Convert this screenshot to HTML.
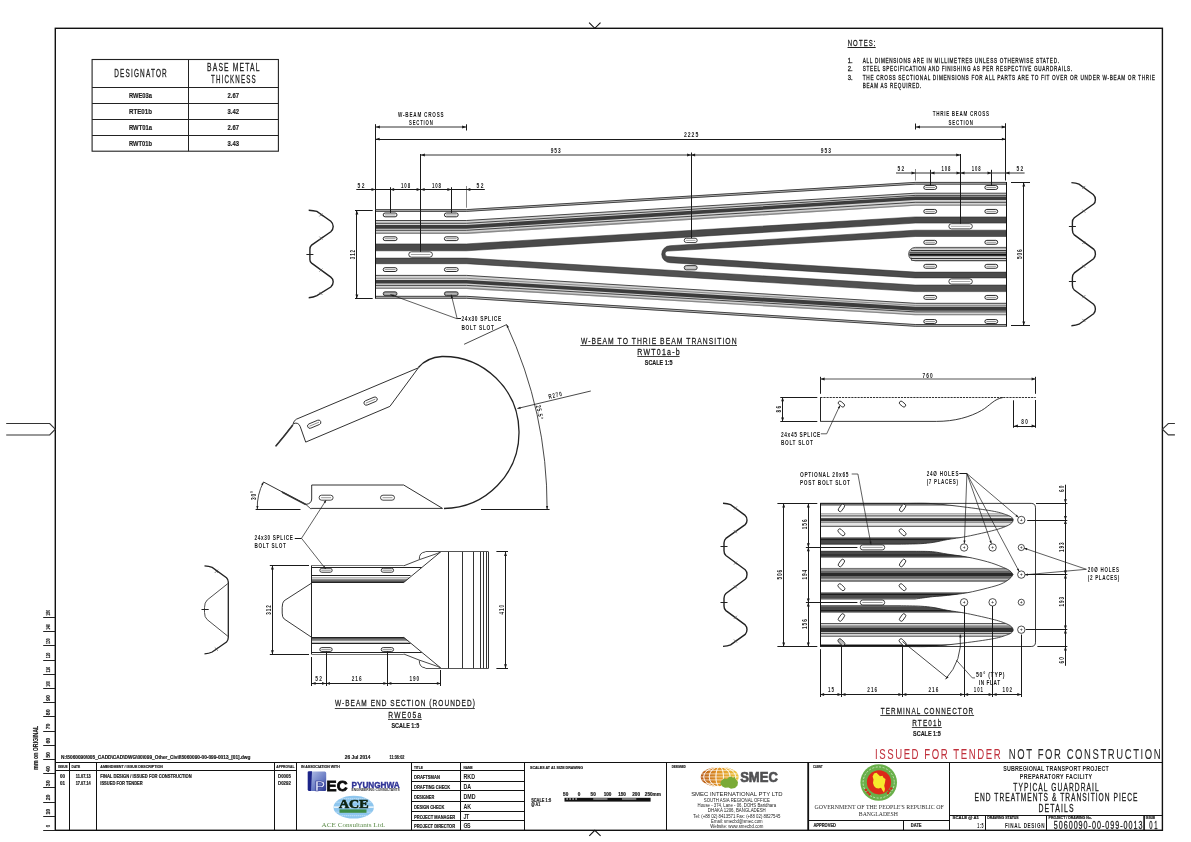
<!DOCTYPE html>
<html><head><meta charset="utf-8"><title>Typical Guardrail End Treatments &amp; Transition Piece Details</title>
<style>
html,body{margin:0;padding:0;background:#fff;}
body{width:1191px;height:842px;overflow:hidden;}
svg{display:block;will-change:transform;}
</style></head><body>
<svg width="1191" height="842" viewBox="0 0 1191 842" fill="none" stroke="#1a1a1a" stroke-width="0.9" font-family="Liberation Sans, sans-serif">
<rect x="0" y="0" width="1191" height="842" fill="#fff" stroke="none"/>
<g>
<rect x="55.3" y="28.3" width="1107.1" height="802.0" stroke="#111" stroke-width="1.4"/>
<path d="M589.1 22.6 L594.8 28.3 L600.5 22.6" stroke-width="1.1" stroke="#111"/>
<path d="M589.3 835.8 L594.8 830.3 L600.6 835.8" stroke-width="1.1" stroke="#111"/>
<path d="M6.2 423.5 H49.7 L55.3 429.2 L49.7 435 H6.2" stroke-width="1.1" stroke="#333"/>
<path d="M1174.9 423.5 H1168.3 L1162.4 429.2 L1168.3 434.9 H1174.9" stroke-width="1.1" stroke="#333"/>
<line x1="43.2" y1="617.5" x2="55.3" y2="617.5" stroke-width="1.0" stroke="#222"/>
<text x="47.6" y="614.8" font-size="5.81" text-anchor="middle" textLength="5.7" lengthAdjust="spacingAndGlyphs" transform="rotate(-90 47.6 612.8)" fill="#1a1a1a" stroke="#1a1a1a" stroke-width="0.18" font-weight="bold">150</text>
<line x1="43.2" y1="631.5" x2="55.3" y2="631.5" stroke-width="1.0" stroke="#222"/>
<text x="47.6" y="629.0" font-size="5.81" text-anchor="middle" textLength="5.7" lengthAdjust="spacingAndGlyphs" transform="rotate(-90 47.6 627.0)" fill="#1a1a1a" stroke="#1a1a1a" stroke-width="0.18" font-weight="bold">140</text>
<line x1="43.2" y1="645.5" x2="55.3" y2="645.5" stroke-width="1.0" stroke="#222"/>
<text x="47.6" y="643.2" font-size="5.81" text-anchor="middle" textLength="5.7" lengthAdjust="spacingAndGlyphs" transform="rotate(-90 47.6 641.2)" fill="#1a1a1a" stroke="#1a1a1a" stroke-width="0.18" font-weight="bold">130</text>
<line x1="43.2" y1="660.5" x2="55.3" y2="660.5" stroke-width="1.0" stroke="#222"/>
<text x="47.6" y="657.4" font-size="5.81" text-anchor="middle" textLength="5.7" lengthAdjust="spacingAndGlyphs" transform="rotate(-90 47.6 655.4)" fill="#1a1a1a" stroke="#1a1a1a" stroke-width="0.18" font-weight="bold">120</text>
<line x1="43.2" y1="674.5" x2="55.3" y2="674.5" stroke-width="1.0" stroke="#222"/>
<text x="47.6" y="671.6" font-size="5.81" text-anchor="middle" textLength="5.7" lengthAdjust="spacingAndGlyphs" transform="rotate(-90 47.6 669.6)" fill="#1a1a1a" stroke="#1a1a1a" stroke-width="0.18" font-weight="bold">110</text>
<line x1="43.2" y1="688.5" x2="55.3" y2="688.5" stroke-width="1.0" stroke="#222"/>
<text x="47.6" y="685.9" font-size="5.81" text-anchor="middle" textLength="5.7" lengthAdjust="spacingAndGlyphs" transform="rotate(-90 47.6 683.9)" fill="#1a1a1a" stroke="#1a1a1a" stroke-width="0.18" font-weight="bold">100</text>
<line x1="43.2" y1="702.5" x2="55.3" y2="702.5" stroke-width="1.0" stroke="#222"/>
<text x="47.6" y="700.1" font-size="5.81" text-anchor="middle" textLength="5.7" lengthAdjust="spacingAndGlyphs" transform="rotate(-90 47.6 698.1)" fill="#1a1a1a" stroke="#1a1a1a" stroke-width="0.18" font-weight="bold">90</text>
<line x1="43.2" y1="716.5" x2="55.3" y2="716.5" stroke-width="1.0" stroke="#222"/>
<text x="47.6" y="714.3" font-size="5.81" text-anchor="middle" textLength="5.7" lengthAdjust="spacingAndGlyphs" transform="rotate(-90 47.6 712.3)" fill="#1a1a1a" stroke="#1a1a1a" stroke-width="0.18" font-weight="bold">80</text>
<line x1="43.2" y1="731.5" x2="55.3" y2="731.5" stroke-width="1.0" stroke="#222"/>
<text x="47.6" y="728.5" font-size="5.81" text-anchor="middle" textLength="5.7" lengthAdjust="spacingAndGlyphs" transform="rotate(-90 47.6 726.5)" fill="#1a1a1a" stroke="#1a1a1a" stroke-width="0.18" font-weight="bold">70</text>
<line x1="43.2" y1="745.5" x2="55.3" y2="745.5" stroke-width="1.0" stroke="#222"/>
<text x="47.6" y="742.7" font-size="5.81" text-anchor="middle" textLength="5.7" lengthAdjust="spacingAndGlyphs" transform="rotate(-90 47.6 740.7)" fill="#1a1a1a" stroke="#1a1a1a" stroke-width="0.18" font-weight="bold">60</text>
<line x1="43.2" y1="759.5" x2="55.3" y2="759.5" stroke-width="1.0" stroke="#222"/>
<text x="47.6" y="756.9" font-size="5.81" text-anchor="middle" textLength="5.7" lengthAdjust="spacingAndGlyphs" transform="rotate(-90 47.6 754.9)" fill="#1a1a1a" stroke="#1a1a1a" stroke-width="0.18" font-weight="bold">50</text>
<line x1="43.2" y1="773.5" x2="55.3" y2="773.5" stroke-width="1.0" stroke="#222"/>
<text x="47.6" y="771.1" font-size="5.81" text-anchor="middle" textLength="5.7" lengthAdjust="spacingAndGlyphs" transform="rotate(-90 47.6 769.1)" fill="#1a1a1a" stroke="#1a1a1a" stroke-width="0.18" font-weight="bold">40</text>
<line x1="43.2" y1="787.5" x2="55.3" y2="787.5" stroke-width="1.0" stroke="#222"/>
<text x="47.6" y="785.3" font-size="5.81" text-anchor="middle" textLength="5.7" lengthAdjust="spacingAndGlyphs" transform="rotate(-90 47.6 783.3)" fill="#1a1a1a" stroke="#1a1a1a" stroke-width="0.18" font-weight="bold">30</text>
<line x1="43.2" y1="802.5" x2="55.3" y2="802.5" stroke-width="1.0" stroke="#222"/>
<text x="47.6" y="799.5" font-size="5.81" text-anchor="middle" textLength="5.7" lengthAdjust="spacingAndGlyphs" transform="rotate(-90 47.6 797.5)" fill="#1a1a1a" stroke="#1a1a1a" stroke-width="0.18" font-weight="bold">20</text>
<line x1="43.2" y1="816.5" x2="55.3" y2="816.5" stroke-width="1.0" stroke="#222"/>
<text x="47.6" y="813.7" font-size="5.81" text-anchor="middle" textLength="5.7" lengthAdjust="spacingAndGlyphs" transform="rotate(-90 47.6 811.7)" fill="#1a1a1a" stroke="#1a1a1a" stroke-width="0.18" font-weight="bold">10</text>
<line x1="43.2" y1="830.5" x2="55.3" y2="830.5" stroke-width="1.0" stroke="#222"/>
<text x="47.6" y="827.9" font-size="5.81" text-anchor="middle" textLength="2.5" lengthAdjust="spacingAndGlyphs" transform="rotate(-90 47.6 825.9)" fill="#1a1a1a" stroke="#1a1a1a" stroke-width="0.18" font-weight="bold">0</text>
<text x="35.7" y="750.0" font-size="6.69" text-anchor="middle" textLength="44.0" lengthAdjust="spacingAndGlyphs" transform="rotate(-90 35.7 747.7)" fill="#1a1a1a" stroke="#1a1a1a" stroke-width="0.18" font-weight="bold">mm on ORIGINAL</text>
<line x1="55.3" y1="762.5" x2="1162.4" y2="762.5" stroke-width="1.0" stroke="#111"/>
<line x1="55.3" y1="770.5" x2="296.1" y2="770.5" stroke-width="1.0" stroke="#111"/>
<line x1="411.5" y1="770.5" x2="524.5" y2="770.5" stroke-width="1.0" stroke="#111"/>
<line x1="411.5" y1="781.5" x2="524.5" y2="781.5" stroke-width="1.0" stroke="#111"/>
<line x1="411.5" y1="790.5" x2="524.5" y2="790.5" stroke-width="1.0" stroke="#111"/>
<line x1="411.5" y1="801.5" x2="524.5" y2="801.5" stroke-width="1.0" stroke="#111"/>
<line x1="411.5" y1="811.5" x2="524.5" y2="811.5" stroke-width="1.0" stroke="#111"/>
<line x1="411.5" y1="820.5" x2="524.5" y2="820.5" stroke-width="1.0" stroke="#111"/>
<line x1="69.5" y1="762.3" x2="69.5" y2="830.3" stroke-width="1.0" stroke="#111"/>
<line x1="96.5" y1="762.3" x2="96.5" y2="830.3" stroke-width="1.0" stroke="#111"/>
<line x1="274.5" y1="762.3" x2="274.5" y2="830.3" stroke-width="1.0" stroke="#111"/>
<line x1="296.5" y1="762.3" x2="296.5" y2="830.3" stroke-width="1.0" stroke="#111"/>
<line x1="411.5" y1="762.3" x2="411.5" y2="830.3" stroke-width="1.0" stroke="#111"/>
<line x1="460.5" y1="762.3" x2="460.5" y2="830.3" stroke-width="1.0" stroke="#111"/>
<line x1="524.5" y1="762.3" x2="524.5" y2="830.3" stroke-width="1.0" stroke="#111"/>
<line x1="666.5" y1="762.3" x2="666.5" y2="830.3" stroke-width="1.0" stroke="#111"/>
<line x1="949.5" y1="762.3" x2="949.5" y2="830.3" stroke-width="1.0" stroke="#111"/>
<line x1="808.2" y1="762.3" x2="808.2" y2="830.3" stroke-width="1.8" stroke="#111"/>
<line x1="808.2" y1="820.5" x2="949.7" y2="820.5" stroke-width="1.0" stroke="#111"/>
<line x1="903.5" y1="820.6" x2="903.5" y2="830.3" stroke-width="1.0" stroke="#111"/>
<line x1="949.7" y1="815.5" x2="1162.4" y2="815.5" stroke-width="1.0" stroke="#111"/>
<line x1="985.5" y1="815.0" x2="985.5" y2="830.3" stroke-width="1.0" stroke="#111"/>
<line x1="1046.5" y1="815.0" x2="1046.5" y2="830.3" stroke-width="1.0" stroke="#111"/>
<line x1="1144.1" y1="815.0" x2="1144.1" y2="830.3" stroke-width="1.6" stroke="#111"/>
<text x="61.0" y="758.7" font-size="4.94" textLength="189.5" lengthAdjust="spacingAndGlyphs" fill="#1a1a1a" stroke="#1a1a1a" stroke-width="0.18" font-weight="bold">N:\5060090\005_CADD\CAD\DWG\00\099_Other_Civil\5060090-00-099-0013_[01].dwg</text>
<text x="344.8" y="758.7" font-size="4.94" textLength="25.6" lengthAdjust="spacingAndGlyphs" fill="#1a1a1a" stroke="#1a1a1a" stroke-width="0.18" font-weight="bold">26 Jul 2014</text>
<text x="389.6" y="758.7" font-size="4.94" textLength="14.7" lengthAdjust="spacingAndGlyphs" fill="#1a1a1a" stroke="#1a1a1a" stroke-width="0.18" font-weight="bold">11:36:02</text>
<text x="58.0" y="768.3" font-size="4.36" textLength="9.6" lengthAdjust="spacingAndGlyphs" fill="#1a1a1a" stroke="#1a1a1a" stroke-width="0.18" font-weight="bold">ISSUE</text>
<text x="71.6" y="768.3" font-size="4.36" textLength="8.5" lengthAdjust="spacingAndGlyphs" fill="#1a1a1a" stroke="#1a1a1a" stroke-width="0.18" font-weight="bold">DATE</text>
<text x="100.3" y="768.3" font-size="4.36" textLength="62.5" lengthAdjust="spacingAndGlyphs" fill="#1a1a1a" stroke="#1a1a1a" stroke-width="0.18" font-weight="bold">AMENDMENT / ISSUE  DESCRIPTION</text>
<text x="276.3" y="768.3" font-size="4.36" textLength="18.2" lengthAdjust="spacingAndGlyphs" fill="#1a1a1a" stroke="#1a1a1a" stroke-width="0.18" font-weight="bold">APPROVAL</text>
<text x="300.9" y="768.3" font-size="4.36" textLength="38.9" lengthAdjust="spacingAndGlyphs" fill="#1a1a1a" stroke="#1a1a1a" stroke-width="0.18" font-weight="bold">IN ASSOCIATION WITH</text>
<text x="62.6" y="778.4" font-size="4.80" text-anchor="middle" textLength="5.0" lengthAdjust="spacingAndGlyphs" fill="#1a1a1a" stroke="#1a1a1a" stroke-width="0.18" font-weight="bold">00</text>
<text x="75.7" y="778.4" font-size="4.80" textLength="15.1" lengthAdjust="spacingAndGlyphs" fill="#1a1a1a" stroke="#1a1a1a" stroke-width="0.18" font-weight="bold">11.07.13</text>
<text x="100.3" y="778.4" font-size="4.80" textLength="91.4" lengthAdjust="spacingAndGlyphs" fill="#1a1a1a" stroke="#1a1a1a" stroke-width="0.18" font-weight="bold">FINAL DESIGN / ISSUED FOR CONSTRUCTION</text>
<text x="278.1" y="778.4" font-size="4.80" textLength="12.7" lengthAdjust="spacingAndGlyphs" fill="#1a1a1a" stroke="#1a1a1a" stroke-width="0.18" font-weight="bold">D0005</text>
<text x="62.6" y="784.9" font-size="4.80" text-anchor="middle" textLength="5.0" lengthAdjust="spacingAndGlyphs" fill="#1a1a1a" stroke="#1a1a1a" stroke-width="0.18" font-weight="bold">01</text>
<text x="75.7" y="784.9" font-size="4.80" textLength="15.1" lengthAdjust="spacingAndGlyphs" fill="#1a1a1a" stroke="#1a1a1a" stroke-width="0.18" font-weight="bold">17.07.14</text>
<text x="100.3" y="784.9" font-size="4.80" textLength="42.4" lengthAdjust="spacingAndGlyphs" fill="#1a1a1a" stroke="#1a1a1a" stroke-width="0.18" font-weight="bold">ISSUED FOR TENDER</text>
<text x="278.1" y="784.9" font-size="4.80" textLength="12.7" lengthAdjust="spacingAndGlyphs" fill="#1a1a1a" stroke="#1a1a1a" stroke-width="0.18" font-weight="bold">D0292</text>
<text x="414.0" y="768.5" font-size="4.36" textLength="8.9" lengthAdjust="spacingAndGlyphs" fill="#1a1a1a" stroke="#1a1a1a" stroke-width="0.18" font-weight="bold">TITLE</text>
<text x="463.4" y="768.5" font-size="4.36" textLength="9.3" lengthAdjust="spacingAndGlyphs" fill="#1a1a1a" stroke="#1a1a1a" stroke-width="0.18" font-weight="bold">NAME</text>
<text x="414.0" y="779.0" font-size="4.94" textLength="25.9" lengthAdjust="spacingAndGlyphs" fill="#1a1a1a" stroke="#1a1a1a" stroke-width="0.18" font-weight="bold">DRAFTSMAN</text>
<text x="463.4" y="779.1" font-size="6.69" textLength="14.5" lengthAdjust="spacing" transform="translate(463.4 0) scale(0.8 1) translate(-463.4 0)" fill="#1a1a1a" stroke="none" font-weight="bold">RKD</text>
<text x="414.0" y="788.9" font-size="4.94" textLength="36.1" lengthAdjust="spacingAndGlyphs" fill="#1a1a1a" stroke="#1a1a1a" stroke-width="0.18" font-weight="bold">DRAFTING CHECK</text>
<text x="463.4" y="789.0" font-size="6.69" textLength="9.5" lengthAdjust="spacing" transform="translate(463.4 0) scale(0.8 1) translate(-463.4 0)" fill="#1a1a1a" stroke="none" font-weight="bold">DA</text>
<text x="414.0" y="798.8" font-size="4.94" textLength="20.2" lengthAdjust="spacingAndGlyphs" fill="#1a1a1a" stroke="#1a1a1a" stroke-width="0.18" font-weight="bold">DESIGNER</text>
<text x="463.4" y="798.9" font-size="6.69" textLength="15.4" lengthAdjust="spacing" transform="translate(463.4 0) scale(0.8 1) translate(-463.4 0)" fill="#1a1a1a" stroke="none" font-weight="bold">DMD</text>
<text x="414.0" y="808.7" font-size="4.94" textLength="30.3" lengthAdjust="spacingAndGlyphs" fill="#1a1a1a" stroke="#1a1a1a" stroke-width="0.18" font-weight="bold">DESIGN CHECK</text>
<text x="463.4" y="808.8" font-size="6.69" textLength="9.5" lengthAdjust="spacing" transform="translate(463.4 0) scale(0.8 1) translate(-463.4 0)" fill="#1a1a1a" stroke="none" font-weight="bold">AK</text>
<text x="414.0" y="818.6" font-size="4.94" textLength="41.3" lengthAdjust="spacingAndGlyphs" fill="#1a1a1a" stroke="#1a1a1a" stroke-width="0.18" font-weight="bold">PROJECT MANAGER</text>
<text x="463.4" y="818.7" font-size="6.69" textLength="7.5" lengthAdjust="spacing" transform="translate(463.4 0) scale(0.8 1) translate(-463.4 0)" fill="#1a1a1a" stroke="none" font-weight="bold">JT</text>
<text x="414.0" y="828.4" font-size="4.94" textLength="41.1" lengthAdjust="spacingAndGlyphs" fill="#1a1a1a" stroke="#1a1a1a" stroke-width="0.18" font-weight="bold">PROJECT DIRECTOR</text>
<text x="463.4" y="828.5" font-size="6.69" textLength="8.9" lengthAdjust="spacing" transform="translate(463.4 0) scale(0.8 1) translate(-463.4 0)" fill="#1a1a1a" stroke="none" font-weight="bold">GS</text>
<text x="530.0" y="768.5" font-size="4.36" textLength="53.0" lengthAdjust="spacingAndGlyphs" fill="#1a1a1a" stroke="#1a1a1a" stroke-width="0.18" font-weight="bold">SCALES AT A1 SIZE DRAWING</text>
<text x="531.2" y="801.5" font-size="4.65" textLength="20.0" lengthAdjust="spacingAndGlyphs" fill="#1a1a1a" stroke="#1a1a1a" stroke-width="0.18" font-weight="bold">SCALE 1:5</text>
<text x="531.2" y="805.8" font-size="4.65" textLength="9.0" lengthAdjust="spacingAndGlyphs" fill="#1a1a1a" stroke="#1a1a1a" stroke-width="0.18" font-weight="bold">@ A1</text>
<rect x="564.5" y="797.8" width="86.1" height="3.8" stroke="none" fill="#111"/>
<rect x="593.2" y="798.2" width="14.3" height="1.6" stroke="none" fill="#888"/>
<rect x="622.0" y="798.2" width="14.3" height="1.6" stroke="none" fill="#888"/>
<rect x="566.5" y="798.3" width="1.2" height="1.4" stroke="none" fill="#fff"/>
<rect x="569.5" y="798.3" width="1.2" height="1.4" stroke="none" fill="#fff"/>
<rect x="572.5" y="798.3" width="1.2" height="1.4" stroke="none" fill="#fff"/>
<rect x="575.5" y="798.3" width="1.2" height="1.4" stroke="none" fill="#fff"/>
<text x="565.7" y="795.8" font-size="4.65" text-anchor="middle" fill="#1a1a1a" stroke="#1a1a1a" stroke-width="0.18" font-weight="bold">50</text>
<text x="579.1" y="795.8" font-size="4.65" text-anchor="middle" fill="#1a1a1a" stroke="#1a1a1a" stroke-width="0.18" font-weight="bold">0</text>
<text x="593.2" y="795.8" font-size="4.65" text-anchor="middle" fill="#1a1a1a" stroke="#1a1a1a" stroke-width="0.18" font-weight="bold">50</text>
<text x="607.5" y="795.8" font-size="4.65" text-anchor="middle" fill="#1a1a1a" stroke="#1a1a1a" stroke-width="0.18" font-weight="bold">100</text>
<text x="622.0" y="795.8" font-size="4.65" text-anchor="middle" fill="#1a1a1a" stroke="#1a1a1a" stroke-width="0.18" font-weight="bold">150</text>
<text x="636.1" y="795.8" font-size="4.65" text-anchor="middle" fill="#1a1a1a" stroke="#1a1a1a" stroke-width="0.18" font-weight="bold">200</text>
<text x="652.8" y="795.8" font-size="4.65" text-anchor="middle" fill="#1a1a1a" stroke="#1a1a1a" stroke-width="0.18" font-weight="bold">250mm</text>
<text x="671.7" y="768.3" font-size="4.36" textLength="14.0" lengthAdjust="spacingAndGlyphs" fill="#1a1a1a" stroke="#1a1a1a" stroke-width="0.18" font-weight="bold">DESIGNED</text>
<text x="813.0" y="768.4" font-size="4.36" textLength="9.5" lengthAdjust="spacingAndGlyphs" fill="#1a1a1a" stroke="#1a1a1a" stroke-width="0.18" font-weight="bold">CLIENT</text>
<text x="879.1" y="808.5" font-size="5.81" text-anchor="middle" textLength="129.2" lengthAdjust="spacingAndGlyphs" fill="#2a2a2a" stroke="none" font-family="Liberation Serif, serif">GOVERNMENT OF THE PEOPLE'S REPUBLIC OF</text>
<text x="878.4" y="815.6" font-size="5.81" text-anchor="middle" textLength="39.2" lengthAdjust="spacingAndGlyphs" fill="#2a2a2a" stroke="none" font-family="Liberation Serif, serif">BANGLADESH</text>
<text x="813.4" y="826.5" font-size="4.65" textLength="22.6" lengthAdjust="spacingAndGlyphs" fill="#1a1a1a" stroke="#1a1a1a" stroke-width="0.18" font-weight="bold">APPROVED</text>
<text x="910.8" y="826.5" font-size="4.65" textLength="10.8" lengthAdjust="spacingAndGlyphs" fill="#1a1a1a" stroke="#1a1a1a" stroke-width="0.18" font-weight="bold">DATE</text>
<text x="1056.0" y="771.2" font-size="6.69" text-anchor="middle" textLength="132.0" lengthAdjust="spacing" transform="translate(1056.0 0) scale(0.8 1) translate(-1056.0 0)" fill="#1a1a1a" stroke="none" font-weight="bold">SUBREGIONAL TRANSPORT PROJECT</text>
<text x="1056.0" y="779.5" font-size="6.69" text-anchor="middle" textLength="90.5" lengthAdjust="spacing" transform="translate(1056.0 0) scale(0.8 1) translate(-1056.0 0)" fill="#1a1a1a" stroke="none" font-weight="bold">PREPARATORY FACILITY</text>
<text x="1056.0" y="791.4" font-size="10.17" text-anchor="middle" textLength="130.2" lengthAdjust="spacing" transform="translate(1056.0 0) scale(0.656 1) translate(-1056.0 0)" fill="#1a1a1a" stroke="#1a1a1a" stroke-width="0.26">TYPICAL GUARDRAIL</text>
<text x="1056.0" y="801.5" font-size="10.17" text-anchor="middle" textLength="249.6" lengthAdjust="spacing" transform="translate(1056.0 0) scale(0.653 1) translate(-1056.0 0)" fill="#1a1a1a" stroke="#1a1a1a" stroke-width="0.26">END TREATMENTS &amp; TRANSITION PIECE</text>
<text x="1056.0" y="811.7" font-size="10.17" text-anchor="middle" textLength="52.1" lengthAdjust="spacing" transform="translate(1056.0 0) scale(0.674 1) translate(-1056.0 0)" fill="#1a1a1a" stroke="#1a1a1a" stroke-width="0.26">DETAILS</text>
<text x="952.6" y="819.4" font-size="3.92" textLength="26.4" lengthAdjust="spacingAndGlyphs" fill="#1a1a1a" stroke="#1a1a1a" stroke-width="0.18" font-weight="bold">SCALE  @ A1</text>
<text x="983.5" y="828.0" font-size="6.54" text-anchor="end" textLength="11.4" lengthAdjust="spacing" transform="translate(983.5 0) scale(0.554 1) translate(-983.5 0)" fill="#1a1a1a" stroke="none" font-weight="bold">1:5</text>
<text x="987.2" y="819.4" font-size="3.92" textLength="31.5" lengthAdjust="spacingAndGlyphs" fill="#1a1a1a" stroke="#1a1a1a" stroke-width="0.18" font-weight="bold">DRAWING STATUS</text>
<text x="1044.6" y="828.2" font-size="7.27" text-anchor="end" textLength="62.7" lengthAdjust="spacing" transform="translate(1044.6 0) scale(0.633 1) translate(-1044.6 0)" fill="#1a1a1a" stroke="none" font-weight="bold">FINAL DESIGN</text>
<text x="1048.6" y="819.4" font-size="3.92" textLength="43.4" lengthAdjust="spacingAndGlyphs" fill="#1a1a1a" stroke="#1a1a1a" stroke-width="0.18" font-weight="bold">PROJECT / DRAWING No.</text>
<text x="1053.7" y="828.6" font-size="10.17" textLength="125.9" lengthAdjust="spacing" transform="translate(1053.7 0) scale(0.706 1) translate(-1053.7 0)" fill="#1a1a1a" stroke="#1a1a1a" stroke-width="0.26">5060090-00-099-0013</text>
<text x="1145.7" y="819.4" font-size="3.92" textLength="9.5" lengthAdjust="spacingAndGlyphs" fill="#1a1a1a" stroke="#1a1a1a" stroke-width="0.18" font-weight="bold">ISSUE</text>
<text x="1149.3" y="828.6" font-size="10.17" textLength="14.1" lengthAdjust="spacing" transform="translate(1149.3 0) scale(0.58 1) translate(-1149.3 0)" fill="#1a1a1a" stroke="#1a1a1a" stroke-width="0.26">01</text>
<text x="875.0" y="758.9" font-size="15.12" textLength="198.1" lengthAdjust="spacing" transform="translate(875.0 0) scale(0.634 1) translate(-875.0 0)" fill="#c0303c" stroke="#c0303c" stroke-width="0.05">ISSUED FOR TENDER</text>
<text x="1008.8" y="758.9" font-size="15.12" textLength="242.1" lengthAdjust="spacing" transform="translate(1008.8 0) scale(0.627 1) translate(-1008.8 0)" fill="#262626" stroke="#262626" stroke-width="0.05">NOT FOR CONSTRUCTION</text>
<defs>
<linearGradient id="pecg" x1="0" y1="0" x2="1" y2="1"><stop offset="0" stop-color="#b8c4e8"/><stop offset="0.6" stop-color="#6a7cc4"/><stop offset="1" stop-color="#2a3590"/></linearGradient>
<linearGradient id="smg" x1="0" y1="0" x2="1" y2="0"><stop offset="0" stop-color="#b85a18"/><stop offset="0.45" stop-color="#e09428"/><stop offset="1" stop-color="#ecc43c"/></linearGradient>
</defs>
<rect x="308.5" y="771.4" width="17.7" height="19.5" rx="1.5" fill="url(#pecg)" stroke="none"/>
<path d="M307.7 772 Q307.7 771.2 309 771.2 L312 771.2 L311 790.9 L309 790.9 Q307.7 790.9 307.7 789.5 Z" fill="#1c2488" stroke="none"/>
<text x="314.8" y="790.6" font-size="15" font-weight="bold" fill="#dde2f6" stroke="#1c2488" stroke-width="0.6" textLength="10.6" lengthAdjust="spacingAndGlyphs">P</text>
<text x="326.6" y="790.6" font-size="15" font-weight="bold" fill="#0c0c0c" stroke="#0c0c0c" stroke-width="0.8" textLength="21" lengthAdjust="spacingAndGlyphs">EC</text>
<text x="351.5" y="787.5" font-size="9.6" font-weight="bold" fill="#2e3296" stroke="#2e3296" stroke-width="0.4" textLength="48.2" lengthAdjust="spacingAndGlyphs">PYUNGHWA</text>
<text x="351.5" y="790.8" font-size="3" font-weight="bold" fill="#333" stroke="none" textLength="48.2" lengthAdjust="spacingAndGlyphs">ENGINEERING CONSULTANTS</text>
<ellipse cx="353.7" cy="807.2" rx="20.2" ry="11.4" fill="#8ec6ee" stroke="none"/>
<line x1="340.2" y1="798.7" x2="367.2" y2="798.7" stroke="#e6f2fb" stroke-width="0.7" stroke-dasharray="1.2 0.8"/>
<line x1="335.5" y1="802.2" x2="371.9" y2="802.2" stroke="#e6f2fb" stroke-width="0.7" stroke-dasharray="1.2 0.8"/>
<line x1="335.5" y1="812.2" x2="371.9" y2="812.2" stroke="#e6f2fb" stroke-width="0.7" stroke-dasharray="1.2 0.8"/>
<line x1="340.2" y1="815.7" x2="367.2" y2="815.7" stroke="#e6f2fb" stroke-width="0.7" stroke-dasharray="1.2 0.8"/>
<line x1="333.6" y1="807.2" x2="373.8" y2="807.2" stroke="#fff" stroke-width="1.2"/>
<text x="338.9" y="808.4" font-size="12" font-weight="bold" font-family="Liberation Serif, serif" fill="#0e2412" stroke="#0e2412" stroke-width="0.6" textLength="29.7" lengthAdjust="spacingAndGlyphs">ACE</text>
<rect x="339.5" y="809.4" width="27" height="3.4" fill="#3d8c46" stroke="none"/>
<text x="321.5" y="826.9" font-size="6" font-family="Liberation Serif, serif" fill="#5d8c4a" stroke="none" textLength="63.6" lengthAdjust="spacingAndGlyphs">ACE Consultants Ltd.</text>
<ellipse cx="719.7" cy="776.9" rx="19" ry="10.1" fill="url(#smg)" stroke="none"/>
<ellipse cx="719.7" cy="776.9" rx="16.1" ry="10.1" stroke="#fff" stroke-width="0.6"/>
<ellipse cx="719.7" cy="776.9" rx="10.5" ry="10.1" stroke="#fff" stroke-width="0.6"/>
<ellipse cx="719.7" cy="776.9" rx="3.8" ry="10.1" stroke="#fff" stroke-width="0.6"/>
<ellipse cx="719.7" cy="776.9" rx="3.8" ry="10.1" stroke="#fff" stroke-width="0.6"/>
<ellipse cx="719.7" cy="776.9" rx="10.5" ry="10.1" stroke="#fff" stroke-width="0.6"/>
<ellipse cx="719.7" cy="776.9" rx="16.1" ry="10.1" stroke="#fff" stroke-width="0.6"/>
<line x1="705.2" y1="770.4" x2="734.2" y2="770.4" stroke="#fff" stroke-width="0.6"/>
<line x1="701.6" y1="773.9" x2="737.8" y2="773.9" stroke="#fff" stroke-width="0.6"/>
<line x1="700.7" y1="776.9" x2="738.7" y2="776.9" stroke="#fff" stroke-width="0.6"/>
<line x1="701.6" y1="779.9" x2="737.8" y2="779.9" stroke="#fff" stroke-width="0.6"/>
<line x1="705.2" y1="783.4" x2="734.2" y2="783.4" stroke="#fff" stroke-width="0.6"/>
<path d="M721 781 L724 778.5 L727 779 L729 777 L731.5 776.5 L733 778 L734.5 776.8 L736 779.5 L738 782 L737.5 785.5 L735 788 L731 788.8 L728.5 787.5 L725 787.8 L722.5 786.5 L720.3 784 Z" fill="#7aaa36" stroke="none"/>
<text x="740.2" y="781.7" font-size="14.6" font-weight="bold" fill="#505052" stroke="#505052" stroke-width="0.7" textLength="37.6" lengthAdjust="spacingAndGlyphs">SMEC</text>
<text x="736.8" y="795.9" font-size="5.52" text-anchor="middle" textLength="91.3" lengthAdjust="spacingAndGlyphs" fill="#1a1a1a" stroke="none">SMEC INTERNATIONAL PTY LTD</text>
<text x="736.8" y="801.9" font-size="4.80" text-anchor="middle" textLength="66.1" lengthAdjust="spacingAndGlyphs" fill="#1a1a1a" stroke="none">SOUTH ASIA REGIONAL OFFICE</text>
<text x="736.8" y="806.5" font-size="4.80" text-anchor="middle" textLength="78.5" lengthAdjust="spacingAndGlyphs" fill="#1a1a1a" stroke="none">House - 374, Lane - 06, DOHS Baridhara</text>
<text x="736.8" y="812.2" font-size="4.80" text-anchor="middle" textLength="57.9" lengthAdjust="spacingAndGlyphs" fill="#1a1a1a" stroke="none">DHAKA 1206, BANGLADESH</text>
<text x="736.8" y="817.9" font-size="4.80" text-anchor="middle" textLength="87.0" lengthAdjust="spacingAndGlyphs" fill="#1a1a1a" stroke="none">Tel: (+88 02) 8413571 Fax: (+88 02) 8827545</text>
<text x="736.8" y="822.6" font-size="4.80" text-anchor="middle" textLength="51.5" lengthAdjust="spacingAndGlyphs" fill="#1a1a1a" stroke="none">Email: smecbd@smec.com</text>
<text x="736.8" y="827.8" font-size="4.80" text-anchor="middle" textLength="53.1" lengthAdjust="spacingAndGlyphs" fill="#1a1a1a" stroke="none">Website: www.smecbd.com</text>
<circle cx="878.7" cy="782.5" r="18.3" fill="#69b04a" stroke="none"/>
<circle cx="878.7" cy="782.5" r="15.6" stroke="#e8f5e0" stroke-width="0.7" stroke-dasharray="2 1.5"/>
<circle cx="879.0" cy="782.3" r="12.1" fill="#dc2a1a" stroke="none"/>
<path d="M874 773.5 L876.5 772.8 L878 774.3 L880 776.2 L882.5 775.8 L883.5 777.8 L885.5 779 L885 782.5 L884.2 785.8 L885 789 L884 792.5 L882.5 790.5 L881 787.8 L878.5 788.5 L876 788 L874 786 L873 783 L873.5 779.5 L872.6 776.5 Z" fill="#f7ea2c" stroke="none"/>
<circle cx="866" cy="790" r="1.3" fill="#d42a1a" stroke="none"/>
<circle cx="867.8" cy="792.5" r="1.3" fill="#d42a1a" stroke="none"/>
<circle cx="869.6" cy="794.2" r="1.3" fill="#d42a1a" stroke="none"/>
<circle cx="889.2" cy="790.8" r="1.3" fill="#d42a1a" stroke="none"/>
<circle cx="891.2" cy="788.5" r="1.3" fill="#d42a1a" stroke="none"/>
<circle cx="888" cy="793" r="1.3" fill="#d42a1a" stroke="none"/>
<rect x="92.1" y="59.5" width="186.3" height="91.7" stroke-width="1.1" stroke="#222"/>
<line x1="188.5" y1="59.5" x2="188.5" y2="151.2" stroke-width="1.0" stroke="#222"/>
<line x1="92.1" y1="87.5" x2="278.4" y2="87.5" stroke-width="1.0" stroke="#222"/>
<line x1="92.1" y1="103.5" x2="278.4" y2="103.5" stroke-width="1.0" stroke="#222"/>
<line x1="92.1" y1="119.5" x2="278.4" y2="119.5" stroke-width="1.0" stroke="#222"/>
<line x1="92.1" y1="135.5" x2="278.4" y2="135.5" stroke-width="1.0" stroke="#222"/>
<text x="140.5" y="77.2" font-size="10.47" text-anchor="middle" textLength="85.2" lengthAdjust="spacing" transform="translate(140.5 0) scale(0.616 1) translate(-140.5 0)" fill="#1a1a1a" stroke="#1a1a1a" stroke-width="0.26">DESIGNATOR</text>
<text x="233.3" y="71.2" font-size="10.47" text-anchor="middle" textLength="81.1" lengthAdjust="spacing" transform="translate(233.3 0) scale(0.647 1) translate(-233.3 0)" fill="#1a1a1a" stroke="#1a1a1a" stroke-width="0.26">BASE METAL</text>
<text x="233.3" y="82.9" font-size="10.47" text-anchor="middle" textLength="74.9" lengthAdjust="spacing" transform="translate(233.3 0) scale(0.594 1) translate(-233.3 0)" fill="#1a1a1a" stroke="#1a1a1a" stroke-width="0.26">THICKNESS</text>
<text x="140.5" y="97.9" font-size="7.56" text-anchor="middle" textLength="23.0" lengthAdjust="spacingAndGlyphs" fill="#222" stroke="#222" stroke-width="0.18" font-weight="bold">RWE03a</text>
<text x="233.3" y="97.9" font-size="7.56" text-anchor="middle" textLength="11.5" lengthAdjust="spacingAndGlyphs" fill="#222" stroke="#222" stroke-width="0.18" font-weight="bold">2.67</text>
<text x="140.5" y="113.9" font-size="7.56" text-anchor="middle" textLength="23.0" lengthAdjust="spacingAndGlyphs" fill="#222" stroke="#222" stroke-width="0.18" font-weight="bold">RTE01b</text>
<text x="233.3" y="113.9" font-size="7.56" text-anchor="middle" textLength="11.5" lengthAdjust="spacingAndGlyphs" fill="#222" stroke="#222" stroke-width="0.18" font-weight="bold">3.42</text>
<text x="140.5" y="129.9" font-size="7.56" text-anchor="middle" textLength="23.0" lengthAdjust="spacingAndGlyphs" fill="#222" stroke="#222" stroke-width="0.18" font-weight="bold">RWT01a</text>
<text x="233.3" y="129.9" font-size="7.56" text-anchor="middle" textLength="11.5" lengthAdjust="spacingAndGlyphs" fill="#222" stroke="#222" stroke-width="0.18" font-weight="bold">2.67</text>
<text x="140.5" y="145.9" font-size="7.56" text-anchor="middle" textLength="23.0" lengthAdjust="spacingAndGlyphs" fill="#222" stroke="#222" stroke-width="0.18" font-weight="bold">RWT01b</text>
<text x="233.3" y="145.9" font-size="7.56" text-anchor="middle" textLength="11.5" lengthAdjust="spacingAndGlyphs" fill="#222" stroke="#222" stroke-width="0.18" font-weight="bold">3.43</text>
<text x="847.7" y="45.8" font-size="9.30" textLength="43.3" lengthAdjust="spacing" transform="translate(847.7 0) scale(0.642 1) translate(-847.7 0)" fill="#1a1a1a" stroke="#1a1a1a" stroke-width="0.26">NOTES:</text>
<line x1="847.5" y1="47.5" x2="875.7" y2="47.5" stroke-width="1.0" stroke="#222"/>
<text x="847.7" y="63.5" font-size="7.27" transform="translate(847.7 0) scale(0.8 1) translate(-847.7 0)" fill="#1a1a1a" stroke="#1a1a1a" stroke-width="0.3">1.</text>
<text x="862.8" y="63.5" font-size="7.27" textLength="307.0" lengthAdjust="spacing" transform="translate(862.8 0) scale(0.639 1) translate(-862.8 0)" fill="#1a1a1a" stroke="#1a1a1a" stroke-width="0.3">ALL DIMENSIONS ARE IN MILLIMETRES UNLESS OTHERWISE STATED.</text>
<text x="847.7" y="71.5" font-size="7.27" transform="translate(847.7 0) scale(0.8 1) translate(-847.7 0)" fill="#1a1a1a" stroke="#1a1a1a" stroke-width="0.3">2.</text>
<text x="862.8" y="71.5" font-size="7.27" textLength="328.9" lengthAdjust="spacing" transform="translate(862.8 0) scale(0.636 1) translate(-862.8 0)" fill="#1a1a1a" stroke="#1a1a1a" stroke-width="0.3">STEEL SPECIFICATION AND FINISHING AS PER RESPECTIVE GUARDRAILS.</text>
<text x="847.7" y="79.8" font-size="7.27" transform="translate(847.7 0) scale(0.8 1) translate(-847.7 0)" fill="#1a1a1a" stroke="#1a1a1a" stroke-width="0.3">3.</text>
<text x="862.8" y="79.8" font-size="7.27" textLength="454.3" lengthAdjust="spacing" transform="translate(862.8 0) scale(0.643 1) translate(-862.8 0)" fill="#1a1a1a" stroke="#1a1a1a" stroke-width="0.3">THE CROSS SECTIONAL DIMENSIONS FOR ALL PARTS ARE TO FIT OVER OR UNDER W-BEAM OR THRIE</text>
<text x="862.8" y="87.8" font-size="7.27" textLength="92.9" lengthAdjust="spacing" transform="translate(862.8 0) scale(0.63 1) translate(-862.8 0)" fill="#1a1a1a" stroke="#1a1a1a" stroke-width="0.3">BEAM AS REQUIRED.</text>
<path d="M375.50 209.20 L466.50 209.20 L915.20 182.00 L1006.40 182.00 L1006.40 184.50 L915.20 184.50 L466.50 211.70 L375.50 211.70 Z" fill="#bdbdbd" stroke="none" stroke-width="0.5"/>
<path d="M375.5 209.60 H466.5 L915.2 182.40 H1006.4" stroke-width="0.8" stroke="#222"/>
<path d="M375.5 211.40 H466.5 L915.2 184.20 H1006.4" stroke-width="0.8" stroke="#222"/>
<path d="M375.50 220.20 L466.50 220.20 L915.20 193.00 L1006.40 193.00 L1006.40 205.80 L915.20 205.80 L466.50 234.00 L375.50 234.00 Z" fill="#d2d2d2" stroke="none" stroke-width="0.5"/>
<path d="M375.5 220.50 H466.5 L915.2 193.20 H1006.4" stroke-width="0.8" stroke="#222"/>
<path d="M375.5 223.30 H466.5 L915.2 195.40 H1006.4" stroke-width="0.8" stroke="#222"/>
<path d="M375.50 225.00 L466.50 225.00 L915.20 196.60 L1006.40 196.60 L1006.40 200.00 L915.20 200.00 L466.50 228.80 L375.50 228.80 Z" fill="#3c3c3c" stroke="none" stroke-width="0.5"/>
<path d="M375.5 230.30 H466.5 L915.2 202.30 H1006.4" stroke-width="0.8" stroke="#222"/>
<path d="M375.50 232.40 L466.50 232.40 L915.20 204.40 L1006.40 204.40 L1006.40 205.80 L915.20 205.80 L466.50 234.00 L375.50 234.00 Z" fill="#8a8a8a" stroke="none" stroke-width="0.5"/>
<path d="M375.50 243.90 L466.50 243.90 L915.20 216.90 L1006.40 216.90 L1006.40 223.10 L915.20 223.10 L466.50 250.80 L375.50 250.80 Z" fill="#4a4a4a" stroke="#222" stroke-width="0.5"/>
<path d="M375.50 258.10 L466.50 258.10 L915.20 285.00 L1006.40 285.00 L1006.40 291.60 L915.20 291.60 L466.50 263.70 L375.50 263.70 Z" fill="#525252" stroke="#222" stroke-width="0.5"/>
<path d="M375.50 275.20 L466.50 275.20 L915.20 303.10 L1006.40 303.10 L1006.40 315.20 L915.20 315.20 L466.50 288.90 L375.50 288.90 Z" fill="#d2d2d2" stroke="none" stroke-width="0.5"/>
<path d="M375.5 275.40 H466.5 L915.2 303.30 H1006.4" stroke-width="0.8" stroke="#222"/>
<path d="M375.5 278.30 H466.5 L915.2 305.40 H1006.4" stroke-width="0.8" stroke="#777"/>
<path d="M375.50 279.90 L466.50 279.90 L915.20 306.80 L1006.40 306.80 L1006.40 310.80 L915.20 310.80 L466.50 283.60 L375.50 283.60 Z" fill="#3c3c3c" stroke="none" stroke-width="0.5"/>
<path d="M375.5 285.40 H466.5 L915.2 311.90 H1006.4" stroke-width="0.8" stroke="#222"/>
<path d="M375.50 287.40 L466.50 287.40 L915.20 313.90 L1006.40 313.90 L1006.40 315.20 L915.20 315.20 L466.50 288.90 L375.50 288.90 Z" fill="#8a8a8a" stroke="none" stroke-width="0.5"/>
<path d="M375.50 296.00 L466.50 296.00 L915.20 324.20 L1006.40 324.20 L1006.40 326.60 L915.20 326.60 L466.50 298.60 L375.50 298.60 Z" fill="#bdbdbd" stroke="none" stroke-width="0.5"/>
<path d="M375.5 296.30 H466.5 L915.2 324.50 H1006.4" stroke-width="0.8" stroke="#222"/>
<path d="M375.5 298.30 H466.5 L915.2 326.30 H1006.4" stroke-width="0.8" stroke="#222"/>
<path d="M915.2 230.2 L670.2 245.7 A8.5 8.5 0 0 0 670.2 262.7 L915.2 277.9 H1006.4 V272.1 H915.2 L667.8 256.5 A2.7 2.7 0 0 1 667.8 251.1 L915.2 236.5 H1006.4 V230.2 Z" fill="#4c4c4c" stroke="#222" stroke-width="0.5"/>
<path d="M1006.4 247.4 H915.3 A6.7 6.7 0 0 0 915.3 260.8 H1006.4 Z" fill="#b0b0b0" stroke="#222" stroke-width="0.7"/>
<line x1="911.0" y1="250.5" x2="1006.4" y2="250.5" stroke-width="1.0" stroke="#333"/>
<line x1="909.5" y1="252.9" x2="1006.4" y2="252.9" stroke-width="1.4" stroke="#3a3a3a"/>
<line x1="909.5" y1="254.5" x2="1006.4" y2="254.5" stroke-width="1.0" stroke="#111"/>
<line x1="909.5" y1="255.5" x2="1006.4" y2="255.5" stroke-width="1.0" stroke="#333"/>
<line x1="911.0" y1="258.5" x2="1006.4" y2="258.5" stroke-width="1.0" stroke="#333"/>
<line x1="911.0" y1="260.5" x2="1006.4" y2="260.5" stroke-width="0.6" stroke="#333"/>
<line x1="912.0" y1="249.5" x2="1006.4" y2="249.5" stroke-width="0.6" stroke="#eee"/>
<line x1="912.0" y1="257.5" x2="1006.4" y2="257.5" stroke-width="0.6" stroke="#eee"/>
<line x1="912.0" y1="259.5" x2="1006.4" y2="259.5" stroke-width="0.6" stroke="#eee"/>
<line x1="375.5" y1="209.2" x2="375.5" y2="298.6" stroke-width="1.0" stroke="#111"/>
<line x1="1006.5" y1="182.0" x2="1006.5" y2="326.6" stroke-width="1.0" stroke="#111"/>
<rect x="383.20" y="213.00" width="13.80" height="3.80" rx="1.90" fill="#fff" stroke="#111" stroke-width="0.9"/>
<line x1="384.72" y1="214.90" x2="395.48" y2="214.90" stroke="#333" stroke-width="0.5"/>
<rect x="383.20" y="236.80" width="13.80" height="3.80" rx="1.90" fill="#fff" stroke="#111" stroke-width="0.9"/>
<line x1="384.72" y1="238.70" x2="395.48" y2="238.70" stroke="#333" stroke-width="0.5"/>
<rect x="383.20" y="267.70" width="13.80" height="3.80" rx="1.90" fill="#fff" stroke="#111" stroke-width="0.9"/>
<line x1="384.72" y1="269.60" x2="395.48" y2="269.60" stroke="#333" stroke-width="0.5"/>
<rect x="383.20" y="291.80" width="13.80" height="3.80" rx="1.90" fill="#9a9a9a" stroke="#1a1a1a" stroke-width="0.8"/>
<line x1="384.72" y1="293.70" x2="395.48" y2="293.70" stroke="#ddd" stroke-width="0.5"/>
<rect x="444.40" y="213.00" width="13.80" height="3.80" rx="1.90" fill="#fff" stroke="#111" stroke-width="0.9"/>
<line x1="445.92" y1="214.90" x2="456.68" y2="214.90" stroke="#333" stroke-width="0.5"/>
<rect x="444.40" y="236.80" width="13.80" height="3.80" rx="1.90" fill="#fff" stroke="#111" stroke-width="0.9"/>
<line x1="445.92" y1="238.70" x2="456.68" y2="238.70" stroke="#333" stroke-width="0.5"/>
<rect x="444.40" y="267.70" width="13.80" height="3.80" rx="1.90" fill="#fff" stroke="#111" stroke-width="0.9"/>
<line x1="445.92" y1="269.60" x2="456.68" y2="269.60" stroke="#333" stroke-width="0.5"/>
<rect x="444.40" y="291.80" width="13.80" height="3.80" rx="1.90" fill="#9a9a9a" stroke="#1a1a1a" stroke-width="0.8"/>
<line x1="445.92" y1="293.70" x2="456.68" y2="293.70" stroke="#ddd" stroke-width="0.5"/>
<rect x="408.75" y="251.80" width="23.70" height="5.40" rx="2.70" fill="#fff" stroke="#1a1a1a" stroke-width="0.8"/>
<line x1="410.91" y1="254.50" x2="430.29" y2="254.50" stroke="#444" stroke-width="0.5"/>
<rect x="923.80" y="185.55" width="12.80" height="3.90" rx="1.95" fill="#fff" stroke="#111" stroke-width="0.9"/>
<line x1="925.36" y1="187.50" x2="935.04" y2="187.50" stroke="#333" stroke-width="0.5"/>
<rect x="923.80" y="209.45" width="12.80" height="3.90" rx="1.95" fill="#fff" stroke="#111" stroke-width="0.9"/>
<line x1="925.36" y1="211.40" x2="935.04" y2="211.40" stroke="#333" stroke-width="0.5"/>
<rect x="923.80" y="240.35" width="12.80" height="3.90" rx="1.95" fill="#fff" stroke="#111" stroke-width="0.9"/>
<line x1="925.36" y1="242.30" x2="935.04" y2="242.30" stroke="#333" stroke-width="0.5"/>
<rect x="923.80" y="264.35" width="12.80" height="3.90" rx="1.95" fill="#fff" stroke="#111" stroke-width="0.9"/>
<line x1="925.36" y1="266.30" x2="935.04" y2="266.30" stroke="#333" stroke-width="0.5"/>
<rect x="923.80" y="295.45" width="12.80" height="3.90" rx="1.95" fill="#fff" stroke="#111" stroke-width="0.9"/>
<line x1="925.36" y1="297.40" x2="935.04" y2="297.40" stroke="#333" stroke-width="0.5"/>
<rect x="923.80" y="319.55" width="12.80" height="3.90" rx="1.95" fill="#fff" stroke="#111" stroke-width="0.9"/>
<line x1="925.36" y1="321.50" x2="935.04" y2="321.50" stroke="#333" stroke-width="0.5"/>
<rect x="984.90" y="185.55" width="12.80" height="3.90" rx="1.95" fill="#fff" stroke="#111" stroke-width="0.9"/>
<line x1="986.46" y1="187.50" x2="996.14" y2="187.50" stroke="#333" stroke-width="0.5"/>
<rect x="984.90" y="209.45" width="12.80" height="3.90" rx="1.95" fill="#fff" stroke="#111" stroke-width="0.9"/>
<line x1="986.46" y1="211.40" x2="996.14" y2="211.40" stroke="#333" stroke-width="0.5"/>
<rect x="984.90" y="240.35" width="12.80" height="3.90" rx="1.95" fill="#fff" stroke="#111" stroke-width="0.9"/>
<line x1="986.46" y1="242.30" x2="996.14" y2="242.30" stroke="#333" stroke-width="0.5"/>
<rect x="984.90" y="264.35" width="12.80" height="3.90" rx="1.95" fill="#fff" stroke="#111" stroke-width="0.9"/>
<line x1="986.46" y1="266.30" x2="996.14" y2="266.30" stroke="#333" stroke-width="0.5"/>
<rect x="984.90" y="295.45" width="12.80" height="3.90" rx="1.95" fill="#fff" stroke="#111" stroke-width="0.9"/>
<line x1="986.46" y1="297.40" x2="996.14" y2="297.40" stroke="#333" stroke-width="0.5"/>
<rect x="984.90" y="319.55" width="12.80" height="3.90" rx="1.95" fill="#fff" stroke="#111" stroke-width="0.9"/>
<line x1="986.46" y1="321.50" x2="996.14" y2="321.50" stroke="#333" stroke-width="0.5"/>
<rect x="948.85" y="223.70" width="23.50" height="5.20" rx="2.60" fill="#fff" stroke="#1a1a1a" stroke-width="0.8"/>
<line x1="950.93" y1="226.30" x2="970.27" y2="226.30" stroke="#555" stroke-width="0.5"/>
<rect x="948.85" y="278.90" width="23.50" height="5.20" rx="2.60" fill="#fff" stroke="#1a1a1a" stroke-width="0.8"/>
<line x1="950.93" y1="281.50" x2="970.27" y2="281.50" stroke="#555" stroke-width="0.5"/>
<rect x="684.20" y="238.25" width="13.00" height="4.30" rx="2.15" fill="#fff" stroke="#1a1a1a" stroke-width="0.8"/>
<line x1="685.92" y1="240.40" x2="695.48" y2="240.40" stroke="#555" stroke-width="0.5"/>
<rect x="684.20" y="265.55" width="13.00" height="4.30" rx="2.15" fill="#bbb" stroke="#1a1a1a" stroke-width="0.8"/>
<line x1="685.92" y1="267.70" x2="695.48" y2="267.70" stroke="#eee" stroke-width="0.5"/>
<line x1="375.6" y1="127.0" x2="466.3" y2="127.0" stroke-width="1.0" stroke="#333"/>
<line x1="375.5" y1="124.3" x2="375.5" y2="130.0" stroke-width="1.0"/>
<line x1="466.5" y1="124.3" x2="466.5" y2="130.5" stroke-width="1.0"/>
<path d="M375.90 127.00 L379.90 125.55 L379.90 128.45 Z" fill="#1a1a1a" stroke="none"/>
<path d="M466.10 127.00 L462.10 128.45 L462.10 125.55 Z" fill="#1a1a1a" stroke="none"/>
<text x="420.8" y="116.6" font-size="6.69" text-anchor="middle" textLength="66.3" lengthAdjust="spacing" transform="translate(420.8 0) scale(0.688 1) translate(-420.8 0)" fill="#1a1a1a" stroke="none" font-weight="bold">W-BEAM CROSS</text>
<text x="420.9" y="124.9" font-size="6.69" text-anchor="middle" textLength="37.1" lengthAdjust="spacing" transform="translate(420.9 0) scale(0.638 1) translate(-420.9 0)" fill="#1a1a1a" stroke="none" font-weight="bold">SECTION</text>
<line x1="915.7" y1="127.0" x2="1005.9" y2="127.0" stroke-width="1.0" stroke="#333"/>
<line x1="915.5" y1="123.5" x2="915.5" y2="129.5" stroke-width="1.0"/>
<line x1="1005.5" y1="123.5" x2="1005.5" y2="129.5" stroke-width="1.0"/>
<path d="M916.00 127.00 L920.00 125.55 L920.00 128.45 Z" fill="#1a1a1a" stroke="none"/>
<path d="M1005.70 127.00 L1001.70 128.45 L1001.70 125.55 Z" fill="#1a1a1a" stroke="none"/>
<text x="960.9" y="116.4" font-size="6.69" text-anchor="middle" textLength="83.1" lengthAdjust="spacing" transform="translate(960.9 0) scale(0.679 1) translate(-960.9 0)" fill="#1a1a1a" stroke="none" font-weight="bold">THRIE BEAM CROSS</text>
<text x="960.8" y="124.9" font-size="6.69" text-anchor="middle" textLength="37.1" lengthAdjust="spacing" transform="translate(960.8 0) scale(0.657 1) translate(-960.8 0)" fill="#1a1a1a" stroke="none" font-weight="bold">SECTION</text>
<line x1="375.6" y1="139.5" x2="1005.9" y2="139.5" stroke-width="1.0"/>
<path d="M375.60 139.10 L379.60 137.65 L379.60 140.55 Z" fill="#1a1a1a" stroke="none"/>
<path d="M1005.90 139.10 L1001.90 140.55 L1001.90 137.65 Z" fill="#1a1a1a" stroke="none"/>
<text x="691.1" y="137.4" font-size="7.41" text-anchor="middle" textLength="20.6" lengthAdjust="spacing" transform="translate(691.1 0) scale(0.694 1) translate(-691.1 0)" fill="#1a1a1a" stroke="none" font-weight="bold">2225</text>
<line x1="420.6" y1="155.0" x2="960.3" y2="155.0" stroke-width="1.0" stroke="#333"/>
<path d="M420.90 155.00 L424.90 153.55 L424.90 156.45 Z" fill="#1a1a1a" stroke="none"/>
<path d="M691.10 155.00 L687.10 156.45 L687.10 153.55 Z" fill="#1a1a1a" stroke="none"/>
<path d="M691.10 155.00 L695.10 153.55 L695.10 156.45 Z" fill="#1a1a1a" stroke="none"/>
<path d="M960.20 155.00 L956.20 156.45 L956.20 153.55 Z" fill="#1a1a1a" stroke="none"/>
<text x="555.7" y="153.4" font-size="7.41" text-anchor="middle" textLength="15.5" lengthAdjust="spacing" transform="translate(555.7 0) scale(0.647 1) translate(-555.7 0)" fill="#1a1a1a" stroke="none" font-weight="bold">953</text>
<text x="825.9" y="153.4" font-size="7.41" text-anchor="middle" textLength="15.5" lengthAdjust="spacing" transform="translate(825.9 0) scale(0.66 1) translate(-825.9 0)" fill="#1a1a1a" stroke="none" font-weight="bold">953</text>
<line x1="375.5" y1="124.5" x2="375.5" y2="209.0" stroke-width="1.0"/>
<line x1="466.5" y1="186.0" x2="466.5" y2="207.7" stroke-width="1.0" stroke="#888"/>
<line x1="420.5" y1="154.0" x2="420.5" y2="251.8" stroke-width="1.0"/>
<line x1="691.5" y1="152.5" x2="691.5" y2="238.2" stroke-width="1.0"/>
<line x1="960.5" y1="154.0" x2="960.5" y2="223.7" stroke-width="1.0"/>
<line x1="1005.5" y1="123.5" x2="1005.5" y2="180.5" stroke-width="1.0"/>
<line x1="915.5" y1="169.0" x2="915.5" y2="180.5" stroke-width="1.0" stroke="#888"/>
<line x1="390.5" y1="187.2" x2="390.5" y2="212.9" stroke-width="1.0"/>
<line x1="451.5" y1="187.2" x2="451.5" y2="212.9" stroke-width="1.0"/>
<line x1="930.5" y1="169.8" x2="930.5" y2="185.5" stroke-width="1.0"/>
<line x1="991.5" y1="169.8" x2="991.5" y2="185.5" stroke-width="1.0"/>
<line x1="356.3" y1="189.5" x2="484.8" y2="189.5" stroke-width="1.0"/>
<path d="M375.50 189.50 L371.50 190.95 L371.50 188.05 Z" fill="#1a1a1a" stroke="none"/>
<path d="M390.10 189.50 L394.10 188.05 L394.10 190.95 Z" fill="#1a1a1a" stroke="none"/>
<path d="M420.60 189.50 L416.60 190.95 L416.60 188.05 Z" fill="#1a1a1a" stroke="none"/>
<path d="M420.60 189.50 L424.60 188.05 L424.60 190.95 Z" fill="#1a1a1a" stroke="none"/>
<path d="M451.40 189.50 L447.40 190.95 L447.40 188.05 Z" fill="#1a1a1a" stroke="none"/>
<path d="M466.30 189.50 L470.30 188.05 L470.30 190.95 Z" fill="#1a1a1a" stroke="none"/>
<text x="361.0" y="187.9" font-size="7.41" text-anchor="middle" textLength="10.3" lengthAdjust="spacing" transform="translate(361.0 0) scale(0.67 1) translate(-361.0 0)" fill="#1a1a1a" stroke="none" font-weight="bold">52</text>
<text x="405.6" y="187.9" font-size="7.41" text-anchor="middle" textLength="15.5" lengthAdjust="spacing" transform="translate(405.6 0) scale(0.595 1) translate(-405.6 0)" fill="#1a1a1a" stroke="none" font-weight="bold">108</text>
<text x="436.5" y="187.9" font-size="7.41" text-anchor="middle" textLength="15.4" lengthAdjust="spacing" transform="translate(436.5 0) scale(0.589 1) translate(-436.5 0)" fill="#1a1a1a" stroke="none" font-weight="bold">108</text>
<text x="480.0" y="187.9" font-size="7.41" text-anchor="middle" textLength="10.3" lengthAdjust="spacing" transform="translate(480.0 0) scale(0.67 1) translate(-480.0 0)" fill="#1a1a1a" stroke="none" font-weight="bold">52</text>
<line x1="896.0" y1="173.0" x2="1024.6" y2="173.0" stroke-width="1.0" stroke="#333"/>
<path d="M915.50 173.00 L911.50 174.45 L911.50 171.55 Z" fill="#1a1a1a" stroke="none"/>
<path d="M930.50 173.00 L934.50 171.55 L934.50 174.45 Z" fill="#1a1a1a" stroke="none"/>
<path d="M960.50 173.00 L956.50 174.45 L956.50 171.55 Z" fill="#1a1a1a" stroke="none"/>
<path d="M960.50 173.00 L964.50 171.55 L964.50 174.45 Z" fill="#1a1a1a" stroke="none"/>
<path d="M991.50 173.00 L987.50 174.45 L987.50 171.55 Z" fill="#1a1a1a" stroke="none"/>
<path d="M1005.50 173.00 L1009.50 171.55 L1009.50 174.45 Z" fill="#1a1a1a" stroke="none"/>
<text x="900.8" y="171.5" font-size="7.41" text-anchor="middle" textLength="10.3" lengthAdjust="spacing" transform="translate(900.8 0) scale(0.66 1) translate(-900.8 0)" fill="#1a1a1a" stroke="none" font-weight="bold">52</text>
<text x="945.9" y="171.5" font-size="7.41" text-anchor="middle" textLength="15.5" lengthAdjust="spacing" transform="translate(945.9 0) scale(0.576 1) translate(-945.9 0)" fill="#1a1a1a" stroke="none" font-weight="bold">108</text>
<text x="976.1" y="171.5" font-size="7.41" text-anchor="middle" textLength="15.5" lengthAdjust="spacing" transform="translate(976.1 0) scale(0.569 1) translate(-976.1 0)" fill="#1a1a1a" stroke="none" font-weight="bold">108</text>
<text x="1019.9" y="171.5" font-size="7.41" text-anchor="middle" textLength="10.3" lengthAdjust="spacing" transform="translate(1019.9 0) scale(0.66 1) translate(-1019.9 0)" fill="#1a1a1a" stroke="none" font-weight="bold">52</text>
<line x1="355.0" y1="210.5" x2="372.7" y2="210.5" stroke-width="1.0"/>
<line x1="355.0" y1="298.5" x2="372.7" y2="298.5" stroke-width="1.0"/>
<line x1="356.5" y1="210.4" x2="356.5" y2="298.4" stroke-width="1.0" stroke="#1a1a1a"/>
<path d="M356.90 210.40 L358.35 214.40 L355.45 214.40 Z" fill="#1a1a1a" stroke="none"/>
<path d="M356.90 298.40 L355.45 294.40 L358.35 294.40 Z" fill="#1a1a1a" stroke="none"/>
<text x="352.6" y="257.1" font-size="7.41" text-anchor="middle" textLength="15.4" lengthAdjust="spacing" transform="rotate(-90 352.6 254.6) translate(352.6 0) scale(0.615 1) translate(-352.6 0)" fill="#1a1a1a" stroke="none" font-weight="bold">312</text>
<line x1="1011.0" y1="182.5" x2="1030.0" y2="182.5" stroke-width="1.0"/>
<line x1="1011.0" y1="325.5" x2="1030.0" y2="325.5" stroke-width="1.0"/>
<line x1="1023.5" y1="182.5" x2="1023.5" y2="325.6" stroke-width="1.0" stroke="#1a1a1a"/>
<path d="M1023.80 182.50 L1025.25 186.50 L1022.35 186.50 Z" fill="#1a1a1a" stroke="none"/>
<path d="M1023.80 325.60 L1022.35 321.60 L1025.25 321.60 Z" fill="#1a1a1a" stroke="none"/>
<text x="1019.8" y="256.8" font-size="7.41" text-anchor="middle" textLength="15.5" lengthAdjust="spacing" transform="rotate(-90 1019.8 254.2) translate(1019.8 0) scale(0.634 1) translate(-1019.8 0)" fill="#1a1a1a" stroke="none" font-weight="bold">506</text>
<path d="M308.7 210.2 Q313.5 210.4 316.9 211.4 L330.8 221.3 Q333.2 223.5 333.2 226.5 Q333.2 229.5 330.8 231.7 L311.6 245.1 Q309.9 246.8 309.9 249.2 V259.7 Q309.9 261.8 311.6 263.1 L330.8 277.1 Q333.2 279 333.2 281.7 Q333.2 284.8 330.8 287 L316.9 295.7 Q313.5 297.5 308.7 297.8" stroke-width="1.4" stroke="#222"/>
<line x1="319.4" y1="213.4" x2="322.4" y2="216.4" stroke-width="0.7" stroke="#555"/>
<line x1="319.4" y1="216.4" x2="322.4" y2="213.4" stroke-width="0.7" stroke="#555"/>
<line x1="319.4" y1="236.6" x2="322.4" y2="239.6" stroke-width="0.7" stroke="#555"/>
<line x1="319.4" y1="239.6" x2="322.4" y2="236.6" stroke-width="0.7" stroke="#555"/>
<line x1="319.4" y1="268.6" x2="322.4" y2="271.6" stroke-width="0.7" stroke="#555"/>
<line x1="319.4" y1="271.6" x2="322.4" y2="268.6" stroke-width="0.7" stroke="#555"/>
<line x1="319.4" y1="291.9" x2="322.4" y2="294.9" stroke-width="0.7" stroke="#555"/>
<line x1="319.4" y1="294.9" x2="322.4" y2="291.9" stroke-width="0.7" stroke="#555"/>
<line x1="306.4" y1="254.5" x2="313.4" y2="254.5" stroke-width="1.0" stroke="#222"/>
<path d="M1071.4 182.6 Q1076 182.8 1079 184.1 L1093.2 194.5 Q1095.4 196.5 1095.4 199.7 Q1095.4 202.5 1093.6 204 L1074.3 217.8 Q1072.4 219.5 1072.4 222.5 V230.1 Q1072.4 233.3 1074.3 234.9 L1093.6 249.1 Q1095.4 250.8 1095.4 253.9 Q1095.4 257 1093.6 258.7 L1074.3 272.9 Q1072.4 274.6 1072.4 277.7 V285.3 Q1072.4 288.4 1074.3 290 L1093.6 304.3 Q1095.4 306 1095.4 309 Q1095.4 312 1093.6 313.8 L1079 324.2 Q1076 325.5 1071.4 325.8" stroke-width="1.4" stroke="#222"/>
<line x1="1082.3" y1="185.9" x2="1085.3" y2="188.9" stroke-width="0.7" stroke="#555"/>
<line x1="1082.3" y1="188.9" x2="1085.3" y2="185.9" stroke-width="0.7" stroke="#555"/>
<line x1="1082.3" y1="209.6" x2="1085.3" y2="212.6" stroke-width="0.7" stroke="#555"/>
<line x1="1082.3" y1="212.6" x2="1085.3" y2="209.6" stroke-width="0.7" stroke="#555"/>
<line x1="1082.3" y1="241.0" x2="1085.3" y2="244.0" stroke-width="0.7" stroke="#555"/>
<line x1="1082.3" y1="244.0" x2="1085.3" y2="241.0" stroke-width="0.7" stroke="#555"/>
<line x1="1082.3" y1="264.8" x2="1085.3" y2="267.8" stroke-width="0.7" stroke="#555"/>
<line x1="1082.3" y1="267.8" x2="1085.3" y2="264.8" stroke-width="0.7" stroke="#555"/>
<line x1="1082.3" y1="295.2" x2="1085.3" y2="298.2" stroke-width="0.7" stroke="#555"/>
<line x1="1082.3" y1="298.2" x2="1085.3" y2="295.2" stroke-width="0.7" stroke="#555"/>
<line x1="1082.3" y1="318.9" x2="1085.3" y2="321.9" stroke-width="0.7" stroke="#555"/>
<line x1="1082.3" y1="321.9" x2="1085.3" y2="318.9" stroke-width="0.7" stroke="#555"/>
<line x1="1068.9" y1="226.5" x2="1075.9" y2="226.5" stroke-width="1.0" stroke="#222"/>
<line x1="1068.9" y1="281.5" x2="1075.9" y2="281.5" stroke-width="1.0" stroke="#222"/>
<line x1="390.3" y1="294.5" x2="457.2" y2="318.8" stroke-width="0.7"/>
<line x1="451.2" y1="294.5" x2="457.2" y2="318.8" stroke-width="0.7"/>
<line x1="457.2" y1="318.5" x2="461.0" y2="318.5" stroke-width="1.0"/>
<path d="M390.80 294.70 L394.00 294.69 L393.24 296.76 Z" fill="#1a1a1a" stroke="none"/>
<path d="M451.40 295.00 L453.00 297.76 L450.84 298.15 Z" fill="#1a1a1a" stroke="none"/>
<text x="461.4" y="321.4" font-size="6.54" textLength="53.6" lengthAdjust="spacing" transform="translate(461.4 0) scale(0.742 1) translate(-461.4 0)" fill="#1a1a1a" stroke="none" font-weight="bold">24x30 SPLICE</text>
<text x="461.4" y="330.1" font-size="6.54" textLength="44.2" lengthAdjust="spacing" transform="translate(461.4 0) scale(0.735 1) translate(-461.4 0)" fill="#1a1a1a" stroke="none" font-weight="bold">BOLT SLOT</text>
<text x="580.9" y="343.6" font-size="9.88" textLength="227.5" lengthAdjust="spacing" transform="translate(580.9 0) scale(0.684 1) translate(-580.9 0)" fill="#1a1a1a" stroke="#1a1a1a" stroke-width="0.26">W-BEAM TO THRIE BEAM TRANSITION</text>
<line x1="580.3" y1="345.5" x2="737.0" y2="345.5" stroke-width="1.0" stroke="#444"/>
<text x="637.3" y="355.2" font-size="8.72" textLength="52.5" lengthAdjust="spacing" transform="translate(637.3 0) scale(0.806 1) translate(-637.3 0)" fill="#1a1a1a" stroke="#1a1a1a" stroke-width="0.26">RWT01a-b</text>
<line x1="637.3" y1="356.5" x2="679.6" y2="356.5" stroke-width="1.0" stroke="#444"/>
<text x="644.8" y="365.2" font-size="6.98" textLength="27.7" lengthAdjust="spacingAndGlyphs" fill="#1a1a1a" stroke="#1a1a1a" stroke-width="0.18" font-weight="bold">SCALE 1:5</text>
<path d="M418.4 367.8 L296.4 419.2 Q293.5 420.6 292.8 424.9 L275.7 446.3" stroke-width="0.9"/>
<path d="M292.8 424.9 L285 435 L275.7 446.3" stroke-width="1.6" stroke="#333"/>
<path d="M293.6 423.6 Q298.5 421.8 300.3 426.8 L305.7 442.1 L389.9 406.4 L418.4 367.8" stroke-width="0.9"/>
<rect x="307.20" y="421.90" width="14.00" height="4.60" rx="2.30" fill="#fff" stroke="#1a1a1a" stroke-width="0.8" transform="rotate(-22.8 314.20 424.20)"/>
<line x1="309.04" y1="424.20" x2="319.36" y2="424.20" stroke="#333" stroke-width="0.5" transform="rotate(-22.8 314.20 424.20)"/>
<rect x="363.60" y="398.80" width="14.00" height="4.60" rx="2.30" fill="#fff" stroke="#1a1a1a" stroke-width="0.8" transform="rotate(-22.8 370.60 401.10)"/>
<line x1="365.44" y1="401.10" x2="375.76" y2="401.10" stroke="#333" stroke-width="0.5" transform="rotate(-22.8 370.60 401.10)"/>
<path d="M418.4 367.5 C423 362 431 357.2 442 356.5 A76 76 0 0 1 444 508.5" stroke-width="1.3" stroke="#222"/>
<path d="M311.7 499 V485 H403.7 L442.5 508.4 H311.1" stroke-width="0.9"/>
<path d="M311.7 499 Q311.5 503.8 305.8 504.4 L263.5 482" stroke-width="0.9"/>
<line x1="282.0" y1="492.0" x2="305.8" y2="504.4" stroke-width="1.7" stroke="#333"/>
<line x1="305.8" y1="504.4" x2="311.1" y2="509.1" stroke-width="0.8"/>
<line x1="255.6" y1="509.5" x2="300.5" y2="509.5" stroke-width="1.0"/>
<line x1="481.0" y1="509.5" x2="549.6" y2="509.5" stroke-width="1.0"/>
<rect x="319.10" y="495.20" width="14.00" height="5.00" rx="2.50" fill="#fff" stroke="#1a1a1a" stroke-width="0.8"/>
<line x1="321.10" y1="497.70" x2="331.10" y2="497.70" stroke="#333" stroke-width="0.5"/>
<rect x="380.50" y="495.20" width="14.00" height="5.00" rx="2.50" fill="#fff" stroke="#1a1a1a" stroke-width="0.8"/>
<line x1="382.50" y1="497.70" x2="392.50" y2="497.70" stroke="#333" stroke-width="0.5"/>
<path d="M263.5 482 A54 54 0 0 0 257.3 509.1" stroke-width="0.8"/>
<path d="M263.50 482.20 L262.95 485.35 L261.05 484.25 Z" fill="#1a1a1a" stroke="none"/>
<path d="M257.40 509.00 L256.30 506.00 L258.50 506.00 Z" fill="#1a1a1a" stroke="none"/>
<text x="253.8" y="497.9" font-size="6.69" text-anchor="middle" textLength="12.6" lengthAdjust="spacing" transform="rotate(-90 253.8 495.6) translate(253.8 0) scale(0.712 1) translate(-253.8 0)" fill="#1a1a1a" stroke="none" font-weight="bold">30°</text>
<path d="M506.6 324.6 A436 436 0 0 1 547.1 509.2" stroke-width="0.8"/>
<path d="M506.60 324.60 L508.95 327.04 L506.96 327.97 Z" fill="#1a1a1a" stroke="none"/>
<path d="M547.10 509.20 L546.00 506.00 L548.20 506.00 Z" fill="#1a1a1a" stroke="none"/>
<line x1="464.1" y1="344.3" x2="506.6" y2="324.6" stroke-width="0.8"/>
<text x="539.7" y="414.5" font-size="6.69" text-anchor="middle" textLength="19.6" lengthAdjust="spacing" transform="rotate(78 539.7 412.2) translate(539.7 0) scale(0.714 1) translate(-539.7 0)" fill="#1a1a1a" stroke="none" font-weight="bold">25.5°</text>
<line x1="517.4" y1="408.5" x2="590.8" y2="391.0" stroke-width="0.8"/>
<path d="M517.40 408.50 L520.27 406.71 L520.77 408.85 Z" fill="#1a1a1a" stroke="none"/>
<text x="555.0" y="397.6" font-size="6.69" text-anchor="middle" textLength="20.0" lengthAdjust="spacing" transform="rotate(-13 555.0 395.3) translate(555.0 0) scale(0.676 1) translate(-555.0 0)" fill="#1a1a1a" stroke="none" font-weight="bold">R270</text>
<defs><linearGradient id="gbd" x1="0" y1="0" x2="0" y2="1"><stop offset="0" stop-color="#a8a8a8"/><stop offset="1" stop-color="#303030"/></linearGradient><linearGradient id="gbu" x1="0" y1="1" x2="0" y2="0"><stop offset="0" stop-color="#a8a8a8"/><stop offset="1" stop-color="#303030"/></linearGradient></defs>
<line x1="311.6" y1="565.5" x2="403.8" y2="565.5" stroke-width="1.0" stroke="#777"/>
<line x1="311.6" y1="567.5" x2="421.7" y2="567.5" stroke-width="1.0" stroke="#222"/>
<path d="M403.8 565.80 L419.3 559.70 L437.2 553.50 L440.7 551.90" stroke-width="0.9" stroke="#333"/>
<path d="M425.4 551.90 Q419 552.50 419.3 559.40" stroke-width="0.9" stroke="#333"/>
<line x1="311.6" y1="575.5" x2="410.5" y2="575.5" stroke-width="1.0" stroke="#222"/>
<line x1="311.6" y1="577.5" x2="409.5" y2="577.5" stroke-width="0.6" stroke="#888"/>
<path d="M311.60 578.60 L409.00 578.60 L403.80 582.60 L311.60 582.60 Z" fill="url(#gbd)" stroke="none" stroke-width="0.5"/>
<line x1="311.6" y1="582.5" x2="403.8" y2="582.5" stroke-width="1.0" stroke="#222"/>
<line x1="403.8" y1="582.4" x2="440.7" y2="551.9" stroke-width="0.9" stroke="#222"/>
<rect x="319.80" y="568.30" width="12.40" height="4.00" rx="2.00" fill="#ececec" stroke="#1a1a1a" stroke-width="0.8"/>
<line x1="321.40" y1="570.30" x2="330.60" y2="570.30" stroke="#555" stroke-width="0.5"/>
<rect x="381.20" y="568.30" width="12.40" height="4.00" rx="2.00" fill="#ececec" stroke="#1a1a1a" stroke-width="0.8"/>
<line x1="382.80" y1="570.30" x2="392.00" y2="570.30" stroke="#555" stroke-width="0.5"/>
<line x1="311.6" y1="654.5" x2="403.8" y2="654.5" stroke-width="1.0" stroke="#777"/>
<line x1="311.6" y1="652.5" x2="421.7" y2="652.5" stroke-width="1.0" stroke="#222"/>
<path d="M403.8 654.00 L419.3 660.10 L437.2 666.30 L440.7 667.90" stroke-width="0.9" stroke="#333"/>
<path d="M425.4 667.90 Q419 667.30 419.3 660.40" stroke-width="0.9" stroke="#333"/>
<line x1="311.6" y1="643.5" x2="410.5" y2="643.5" stroke-width="1.0" stroke="#222"/>
<line x1="311.6" y1="642.5" x2="409.5" y2="642.5" stroke-width="0.6" stroke="#888"/>
<path d="M311.60 641.20 L409.00 641.20 L403.80 637.20 L311.60 637.20 Z" fill="url(#gbu)" stroke="none" stroke-width="0.5"/>
<line x1="311.6" y1="637.5" x2="403.8" y2="637.5" stroke-width="1.0" stroke="#222"/>
<line x1="403.8" y1="637.4" x2="440.7" y2="667.9" stroke-width="0.9" stroke="#222"/>
<rect x="319.80" y="647.50" width="12.40" height="4.00" rx="2.00" fill="#ececec" stroke="#1a1a1a" stroke-width="0.8"/>
<line x1="321.40" y1="649.50" x2="330.60" y2="649.50" stroke="#555" stroke-width="0.5"/>
<rect x="381.20" y="647.50" width="12.40" height="4.00" rx="2.00" fill="#ececec" stroke="#1a1a1a" stroke-width="0.8"/>
<line x1="382.80" y1="649.50" x2="392.00" y2="649.50" stroke="#555" stroke-width="0.5"/>
<line x1="425.4" y1="551.5" x2="488.6" y2="551.5" stroke-width="1.0" stroke="#555"/>
<line x1="425.4" y1="668.5" x2="488.6" y2="668.5" stroke-width="1.0" stroke="#555"/>
<line x1="448.5" y1="551.9" x2="448.5" y2="668.3" stroke-width="1.0" stroke="#222"/>
<line x1="462.5" y1="551.9" x2="462.5" y2="668.3" stroke-width="1.0" stroke="#333"/>
<line x1="473.5" y1="551.9" x2="473.5" y2="668.3" stroke-width="1.0" stroke="#333"/>
<line x1="480.5" y1="551.9" x2="480.5" y2="668.3" stroke-width="1.0" stroke="#333"/>
<line x1="483.5" y1="551.9" x2="483.5" y2="668.3" stroke-width="1.0" stroke="#333"/>
<line x1="486.5" y1="551.9" x2="486.5" y2="668.3" stroke-width="1.0" stroke="#333"/>
<line x1="488.5" y1="551.9" x2="488.5" y2="668.3" stroke-width="1.0" stroke="#333"/>
<line x1="311.5" y1="565.5" x2="311.5" y2="654.3" stroke-width="1.0" stroke="#222"/>
<path d="M311.6 583.1 L284.2 600.7 Q282.2 602.5 282.2 607.3 V613.1 Q282.2 617.5 284.2 619 L311.6 637.3" stroke-width="0.9" stroke="#222"/>
<line x1="269.8" y1="565.5" x2="309.0" y2="565.5" stroke-width="1.0"/>
<line x1="269.8" y1="654.5" x2="309.0" y2="654.5" stroke-width="1.0"/>
<line x1="272.5" y1="565.5" x2="272.5" y2="654.3" stroke-width="1.0" stroke="#1a1a1a"/>
<path d="M272.40 565.50 L273.85 569.50 L270.95 569.50 Z" fill="#1a1a1a" stroke="none"/>
<path d="M272.40 654.30 L270.95 650.30 L273.85 650.30 Z" fill="#1a1a1a" stroke="none"/>
<text x="268.4" y="612.4" font-size="7.41" text-anchor="middle" textLength="15.5" lengthAdjust="spacing" transform="rotate(-90 268.4 609.9) translate(268.4 0) scale(0.621 1) translate(-268.4 0)" fill="#1a1a1a" stroke="none" font-weight="bold">312</text>
<line x1="496.4" y1="551.5" x2="508.0" y2="551.5" stroke-width="1.0"/>
<line x1="496.4" y1="668.5" x2="508.0" y2="668.5" stroke-width="1.0"/>
<line x1="505.5" y1="551.9" x2="505.5" y2="668.3" stroke-width="1.0" stroke="#1a1a1a"/>
<path d="M505.50 551.90 L506.95 555.90 L504.05 555.90 Z" fill="#1a1a1a" stroke="none"/>
<path d="M505.50 668.30 L504.05 664.30 L506.95 664.30 Z" fill="#1a1a1a" stroke="none"/>
<text x="502.0" y="612.3" font-size="7.41" text-anchor="middle" textLength="15.5" lengthAdjust="spacing" transform="rotate(-90 502.0 609.8) translate(502.0 0) scale(0.621 1) translate(-502.0 0)" fill="#1a1a1a" stroke="none" font-weight="bold">410</text>
<line x1="311.5" y1="657.0" x2="311.5" y2="686.0" stroke-width="1.0"/>
<line x1="326.5" y1="651.5" x2="326.5" y2="686.0" stroke-width="1.0"/>
<line x1="387.5" y1="651.5" x2="387.5" y2="686.0" stroke-width="1.0"/>
<line x1="440.5" y1="670.0" x2="440.5" y2="686.0" stroke-width="1.0"/>
<line x1="311.6" y1="683.5" x2="440.9" y2="683.5" stroke-width="1.0"/>
<path d="M311.60 683.40 L315.60 681.95 L315.60 684.85 Z" fill="#1a1a1a" stroke="none"/>
<path d="M326.00 683.40 L322.00 684.85 L322.00 681.95 Z" fill="#1a1a1a" stroke="none"/>
<path d="M326.00 683.40 L330.00 681.95 L330.00 684.85 Z" fill="#1a1a1a" stroke="none"/>
<path d="M387.40 683.40 L383.40 684.85 L383.40 681.95 Z" fill="#1a1a1a" stroke="none"/>
<path d="M387.40 683.40 L391.40 681.95 L391.40 684.85 Z" fill="#1a1a1a" stroke="none"/>
<path d="M440.90 683.40 L436.90 684.85 L436.90 681.95 Z" fill="#1a1a1a" stroke="none"/>
<text x="318.6" y="681.1" font-size="7.41" text-anchor="middle" textLength="10.3" lengthAdjust="spacing" transform="translate(318.6 0) scale(0.66 1) translate(-318.6 0)" fill="#1a1a1a" stroke="none" font-weight="bold">52</text>
<text x="356.6" y="681.1" font-size="7.41" text-anchor="middle" textLength="15.5" lengthAdjust="spacing" transform="translate(356.6 0) scale(0.634 1) translate(-356.6 0)" fill="#1a1a1a" stroke="none" font-weight="bold">216</text>
<text x="414.3" y="681.1" font-size="7.41" text-anchor="middle" textLength="15.5" lengthAdjust="spacing" transform="translate(414.3 0) scale(0.634 1) translate(-414.3 0)" fill="#1a1a1a" stroke="none" font-weight="bold">190</text>
<path d="M204.5 565.9 Q209 566.3 212.2 567.4 L226.5 577.8 Q228.3 579.5 228.3 582 V637.2 Q228.3 640 226.5 642 L212.2 652 Q209 653.6 204.5 653.9" stroke-width="1.3" stroke="#222"/>
<path d="M227.8 583.6 L207.2 600 Q204.5 602.5 204.5 607.5 V612.5 Q204.5 617.3 207.2 619.6 L227.8 636.2" stroke-width="0.8" stroke="#222"/>
<line x1="214.8" y1="569.7" x2="218.0" y2="572.9" stroke-width="0.7" stroke="#444"/>
<line x1="214.8" y1="572.9" x2="218.0" y2="569.7" stroke-width="0.7" stroke="#444"/>
<line x1="214.8" y1="647.5" x2="218.0" y2="650.7" stroke-width="0.7" stroke="#444"/>
<line x1="214.8" y1="650.7" x2="218.0" y2="647.5" stroke-width="0.7" stroke="#444"/>
<line x1="201.5" y1="609.5" x2="208.7" y2="609.5" stroke-width="1.0" stroke="#222"/>
<text x="254.5" y="540.5" font-size="6.54" textLength="53.6" lengthAdjust="spacing" transform="translate(254.5 0) scale(0.718 1) translate(-254.5 0)" fill="#1a1a1a" stroke="none" font-weight="bold">24x30 SPLICE</text>
<text x="254.5" y="548.5" font-size="6.54" textLength="44.2" lengthAdjust="spacing" transform="translate(254.5 0) scale(0.712 1) translate(-254.5 0)" fill="#1a1a1a" stroke="none" font-weight="bold">BOLT SLOT</text>
<line x1="294.8" y1="538.5" x2="301.5" y2="538.5" stroke-width="1.0"/>
<line x1="301.5" y1="538.3" x2="326.1" y2="500.2" stroke-width="0.7"/>
<line x1="301.5" y1="538.3" x2="325.7" y2="569.0" stroke-width="0.7"/>
<path d="M326.10 500.20 L325.39 503.32 L323.54 502.12 Z" fill="#1a1a1a" stroke="none"/>
<path d="M325.70 569.00 L322.99 567.31 L324.72 565.96 Z" fill="#1a1a1a" stroke="none"/>
<text x="335.0" y="706.4" font-size="9.30" textLength="200.1" lengthAdjust="spacing" transform="translate(335.0 0) scale(0.699 1) translate(-335.0 0)" fill="#1a1a1a" stroke="#1a1a1a" stroke-width="0.26">W-BEAM END SECTION (ROUNDED)</text>
<line x1="334.8" y1="708.5" x2="474.8" y2="708.5" stroke-width="1.0" stroke="#444"/>
<text x="388.2" y="717.8" font-size="9.30" textLength="46.3" lengthAdjust="spacing" transform="translate(388.2 0) scale(0.715 1) translate(-388.2 0)" fill="#1a1a1a" stroke="#1a1a1a" stroke-width="0.26">RWE05a</text>
<line x1="388.0" y1="719.5" x2="421.8" y2="719.5" stroke-width="1.0" stroke="#444"/>
<text x="391.5" y="727.5" font-size="6.98" textLength="27.7" lengthAdjust="spacingAndGlyphs" fill="#1a1a1a" stroke="#1a1a1a" stroke-width="0.18" font-weight="bold">SCALE 1:5</text>
<line x1="820.3" y1="397.5" x2="1035.8" y2="397.5" stroke-width="1.0" stroke="#333" stroke-dasharray="2.2 0.9"/>
<line x1="820.5" y1="397.3" x2="820.5" y2="421.4" stroke-width="1.0" stroke="#222"/>
<path d="M820.3 421.4 H936.3 C955 421.4 970 417 981.7 410.4 C990 405.5 994 399 1003 397.5" stroke-width="0.9" stroke="#222"/>
<rect x="837.80" y="402.30" width="7.20" height="3.60" rx="1.80" fill="#fff" stroke="#1a1a1a" stroke-width="0.8" transform="rotate(40 841.40 404.10)"/>
<rect x="898.90" y="402.30" width="7.20" height="3.60" rx="1.80" fill="#fff" stroke="#1a1a1a" stroke-width="0.8" transform="rotate(40 902.50 404.10)"/>
<line x1="820.5" y1="376.8" x2="820.5" y2="393.8" stroke-width="1.0"/>
<line x1="1035.5" y1="376.8" x2="1035.5" y2="393.8" stroke-width="1.0"/>
<line x1="820.3" y1="379.0" x2="1035.8" y2="379.0" stroke-width="1.0" stroke="#555"/>
<path d="M820.60 379.00 L824.60 377.55 L824.60 380.45 Z" fill="#1a1a1a" stroke="none"/>
<path d="M1035.60 379.00 L1031.60 380.45 L1031.60 377.55 Z" fill="#1a1a1a" stroke="none"/>
<text x="927.6" y="377.7" font-size="7.41" text-anchor="middle" textLength="15.5" lengthAdjust="spacing" transform="translate(927.6 0) scale(0.647 1) translate(-927.6 0)" fill="#1a1a1a" stroke="none" font-weight="bold">760</text>
<line x1="780.3" y1="397.5" x2="817.3" y2="397.5" stroke-width="1.0"/>
<line x1="780.3" y1="421.5" x2="817.3" y2="421.5" stroke-width="1.0"/>
<line x1="782.5" y1="397.3" x2="782.5" y2="421.4" stroke-width="1.0" stroke="#1a1a1a"/>
<path d="M782.60 397.30 L784.05 401.30 L781.15 401.30 Z" fill="#1a1a1a" stroke="none"/>
<path d="M782.60 421.40 L781.15 417.40 L784.05 417.40 Z" fill="#1a1a1a" stroke="none"/>
<text x="778.0" y="411.8" font-size="7.41" text-anchor="middle" textLength="10.3" lengthAdjust="spacing" transform="rotate(-90 778.0 409.2) translate(778.0 0) scale(0.631 1) translate(-778.0 0)" fill="#1a1a1a" stroke="none" font-weight="bold">86</text>
<line x1="1013.5" y1="400.3" x2="1013.5" y2="427.8" stroke-width="1.0"/>
<line x1="1035.5" y1="400.0" x2="1035.5" y2="427.8" stroke-width="1.0"/>
<line x1="1013.9" y1="426.5" x2="1035.6" y2="426.5" stroke-width="1.0" stroke="#1a1a1a"/>
<path d="M1013.90 426.00 L1017.90 424.55 L1017.90 427.45 Z" fill="#1a1a1a" stroke="none"/>
<path d="M1035.60 426.00 L1031.60 427.45 L1031.60 424.55 Z" fill="#1a1a1a" stroke="none"/>
<text x="1024.6" y="423.9" font-size="7.41" text-anchor="middle" textLength="10.3" lengthAdjust="spacing" transform="translate(1024.6 0) scale(0.631 1) translate(-1024.6 0)" fill="#1a1a1a" stroke="none" font-weight="bold">80</text>
<path d="M820.8 433.8 H826.7 L839.7 405.9" stroke-width="0.7"/>
<path d="M840.00 405.40 L839.73 408.58 L837.74 407.65 Z" fill="#1a1a1a" stroke="none"/>
<text x="780.9" y="436.8" font-size="6.98" textLength="57.2" lengthAdjust="spacing" transform="translate(780.9 0) scale(0.689 1) translate(-780.9 0)" fill="#1a1a1a" stroke="none" font-weight="bold">24x45 SPLICE</text>
<text x="780.9" y="445.0" font-size="6.98" textLength="47.2" lengthAdjust="spacing" transform="translate(780.9 0) scale(0.678 1) translate(-780.9 0)" fill="#1a1a1a" stroke="none" font-weight="bold">BOLT SLOT</text>
<defs><clipPath id="lb1"><path d="M820.1 503.4 H905 C909.58 503.43 922.08 502.93 932.50 503.60 C942.92 504.27 957.20 506.10 967.50 507.40 C977.80 508.70 987.80 510.17 994.30 511.40 C1000.80 512.63 1003.62 513.83 1006.50 514.80 C1009.38 515.77 1010.47 516.37 1011.60 517.20 C1012.73 518.03 1013.02 519.37 1013.30 519.80 C1013.05 520.30 1012.88 521.77 1011.80 522.80 C1010.72 523.83 1009.72 524.77 1006.80 526.00 C1003.88 527.23 1000.85 528.48 994.30 530.20 C987.75 531.92 975.33 534.73 967.50 536.30 C959.67 537.87 952.90 538.60 947.30 539.60 C941.70 540.60 938.37 541.62 933.90 542.30 C929.43 542.98 926.15 543.38 920.50 543.70 C914.85 544.02 903.42 544.12 900.00 544.20 H820.1 Z"/></clipPath><clipPath id="lb2"><path d="M820.1 551.3 H915 C917.92 551.37 927.12 551.23 932.50 551.70 C937.88 552.17 941.47 553.20 947.30 554.10 C953.13 555.00 960.78 555.82 967.50 557.10 C974.22 558.38 982.02 560.23 987.60 561.80 C993.18 563.37 997.35 565.05 1001.00 566.50 C1004.65 567.95 1007.48 569.15 1009.50 570.50 C1011.52 571.85 1012.50 573.92 1013.10 574.60 C1012.50 575.32 1011.52 577.33 1009.50 578.90 C1007.48 580.47 1004.65 582.48 1001.00 584.00 C997.35 585.52 993.18 586.55 987.60 588.00 C982.02 589.45 974.22 591.47 967.50 592.70 C960.78 593.93 953.13 594.73 947.30 595.40 C941.47 596.07 937.88 596.10 932.50 596.70 C927.12 597.30 917.92 598.62 915.00 599.00 H820.1 Z"/></clipPath><clipPath id="lb3"><path d="M820.1 605.70 H900 C903.42 605.78 914.85 605.88 920.50 606.20 C926.15 606.52 929.43 606.92 933.90 607.60 C938.37 608.28 941.70 609.30 947.30 610.30 C952.90 611.30 959.67 612.03 967.50 613.60 C975.33 615.17 987.75 617.98 994.30 619.70 C1000.85 621.42 1003.88 622.67 1006.80 623.90 C1009.72 625.13 1010.72 626.07 1011.80 627.10 C1012.88 628.13 1013.05 629.60 1013.30 630.10 C1013.02 630.53 1012.73 631.87 1011.60 632.70 C1010.47 633.53 1009.38 634.13 1006.50 635.10 C1003.62 636.07 1000.80 637.27 994.30 638.50 C987.80 639.73 977.80 641.20 967.50 642.50 C957.20 643.80 942.92 645.63 932.50 646.30 C922.08 646.97 909.58 646.47 905.00 646.50 H820.1 Z"/></clipPath></defs>
<path d="M820.1 503.4 H1031.2 Q1035.5 503.4 1035.5 507.8 V642.2 Q1035.5 646.5 1031.2 646.5 H820.1" stroke-width="0.9" stroke="#222"/>
<g clip-path="url(#lb1)">
<rect x="820.1" y="503.40" width="200" height="2.40" fill="#8a8a8a" stroke="none"/>
<line x1="820.1" y1="503.70" x2="1020" y2="503.70" stroke="#111" stroke-width="1.0"/>
<rect x="820.1" y="513.40" width="200" height="13.40" fill="#e4e4e4" stroke="none"/>
<line x1="820.1" y1="513.80" x2="1020" y2="513.80" stroke="#888" stroke-width="0.8"/>
<line x1="820.1" y1="515.90" x2="1020" y2="515.90" stroke="#222" stroke-width="0.8"/>
<rect x="820.1" y="518.20" width="200" height="3.10" fill="#333" stroke="none"/>
<line x1="820.1" y1="522.40" x2="1020" y2="522.40" stroke="#888" stroke-width="1.0"/>
<line x1="820.1" y1="526.30" x2="1020" y2="526.30" stroke="#222" stroke-width="0.8"/>
<rect x="820.1" y="537.40" width="200" height="7.00" fill="#4a4a4a" stroke="none"/>
<line x1="820.1" y1="539.60" x2="1020" y2="539.60" stroke="#111" stroke-width="0.8"/>
</g>
<g clip-path="url(#lb2)">
<rect x="820.1" y="551.00" width="200" height="6.60" fill="#4a4a4a" stroke="none"/>
<line x1="820.1" y1="555.00" x2="1020" y2="555.00" stroke="#111" stroke-width="0.8"/>
<rect x="820.1" y="568.00" width="200" height="13.30" fill="#9a9a9a" stroke="none"/>
<rect x="820.1" y="571.00" width="200" height="2.00" fill="#666" stroke="none"/>
<rect x="820.1" y="573.00" width="200" height="3.30" fill="#2a2a2a" stroke="none"/>
<rect x="820.1" y="576.30" width="200" height="2.20" fill="#666" stroke="none"/>
<line x1="820.1" y1="568.40" x2="1020" y2="568.40" stroke="#555" stroke-width="0.6"/>
<line x1="820.1" y1="579.80" x2="1020" y2="579.80" stroke="#eee" stroke-width="0.6"/>
<line x1="820.1" y1="581.10" x2="1020" y2="581.10" stroke="#222" stroke-width="0.8"/>
<rect x="820.1" y="592.40" width="200" height="6.20" fill="#4a4a4a" stroke="none"/>
<line x1="820.1" y1="594.50" x2="1020" y2="594.50" stroke="#111" stroke-width="0.8"/>
</g>
<g clip-path="url(#lb3)">
<rect x="820.1" y="606.20" width="200" height="6.40" fill="#4a4a4a" stroke="none"/>
<line x1="820.1" y1="610.50" x2="1020" y2="610.50" stroke="#111" stroke-width="0.8"/>
<rect x="820.1" y="623.20" width="200" height="13.30" fill="#e4e4e4" stroke="none"/>
<line x1="820.1" y1="623.60" x2="1020" y2="623.60" stroke="#222" stroke-width="0.8"/>
<line x1="820.1" y1="626.10" x2="1020" y2="626.10" stroke="#222" stroke-width="0.8"/>
<rect x="820.1" y="627.40" width="200" height="4.80" fill="#333" stroke="none"/>
<line x1="820.1" y1="633.60" x2="1020" y2="633.60" stroke="#222" stroke-width="0.8"/>
<line x1="820.1" y1="636.20" x2="1020" y2="636.20" stroke="#222" stroke-width="0.8"/>
<rect x="820.1" y="644.20" width="200" height="2.30" fill="#777" stroke="none"/>
<line x1="820.1" y1="645.60" x2="1020" y2="645.60" stroke="#111" stroke-width="1.2"/>
</g>
<path d="M820.1 503.4 H905 C909.58 503.43 922.08 502.93 932.50 503.60 C942.92 504.27 957.20 506.10 967.50 507.40 C977.80 508.70 987.80 510.17 994.30 511.40 C1000.80 512.63 1003.62 513.83 1006.50 514.80 C1009.38 515.77 1010.47 516.37 1011.60 517.20 C1012.73 518.03 1013.02 519.37 1013.30 519.80 C1013.05 520.30 1012.88 521.77 1011.80 522.80 C1010.72 523.83 1009.72 524.77 1006.80 526.00 C1003.88 527.23 1000.85 528.48 994.30 530.20 C987.75 531.92 975.33 534.73 967.50 536.30 C959.67 537.87 952.90 538.60 947.30 539.60 C941.70 540.60 938.37 541.62 933.90 542.30 C929.43 542.98 926.15 543.38 920.50 543.70 C914.85 544.02 903.42 544.12 900.00 544.20 H820.1" stroke-width="0.8" stroke="#222"/>
<path d="M820.1 551.3 H915 C917.92 551.37 927.12 551.23 932.50 551.70 C937.88 552.17 941.47 553.20 947.30 554.10 C953.13 555.00 960.78 555.82 967.50 557.10 C974.22 558.38 982.02 560.23 987.60 561.80 C993.18 563.37 997.35 565.05 1001.00 566.50 C1004.65 567.95 1007.48 569.15 1009.50 570.50 C1011.52 571.85 1012.50 573.92 1013.10 574.60 C1012.50 575.32 1011.52 577.33 1009.50 578.90 C1007.48 580.47 1004.65 582.48 1001.00 584.00 C997.35 585.52 993.18 586.55 987.60 588.00 C982.02 589.45 974.22 591.47 967.50 592.70 C960.78 593.93 953.13 594.73 947.30 595.40 C941.47 596.07 937.88 596.10 932.50 596.70 C927.12 597.30 917.92 598.62 915.00 599.00 H820.1" stroke-width="0.8" stroke="#222"/>
<path d="M820.1 605.70 H900 C903.42 605.78 914.85 605.88 920.50 606.20 C926.15 606.52 929.43 606.92 933.90 607.60 C938.37 608.28 941.70 609.30 947.30 610.30 C952.90 611.30 959.67 612.03 967.50 613.60 C975.33 615.17 987.75 617.98 994.30 619.70 C1000.85 621.42 1003.88 622.67 1006.80 623.90 C1009.72 625.13 1010.72 626.07 1011.80 627.10 C1012.88 628.13 1013.05 629.60 1013.30 630.10 C1013.02 630.53 1012.73 631.87 1011.60 632.70 C1010.47 633.53 1009.38 634.13 1006.50 635.10 C1003.62 636.07 1000.80 637.27 994.30 638.50 C987.80 639.73 977.80 641.20 967.50 642.50 C957.20 643.80 942.92 645.63 932.50 646.30 C922.08 646.97 909.58 646.47 905.00 646.50 H820.1" stroke-width="0.8" stroke="#222"/>
<line x1="820.5" y1="503.4" x2="820.5" y2="646.5" stroke-width="1.0" stroke="#111"/>
<rect x="837.30" y="506.00" width="8.20" height="3.80" rx="1.90" fill="#fff" stroke="#1a1a1a" stroke-width="0.8" transform="rotate(-55 841.40 507.90)"/>
<rect x="898.50" y="506.00" width="8.20" height="3.80" rx="1.90" fill="#fff" stroke="#1a1a1a" stroke-width="0.8" transform="rotate(-55 902.60 507.90)"/>
<rect x="837.30" y="530.40" width="8.20" height="3.80" rx="1.90" fill="#fff" stroke="#1a1a1a" stroke-width="0.8" transform="rotate(45 841.40 532.30)"/>
<rect x="898.50" y="530.40" width="8.20" height="3.80" rx="1.90" fill="#fff" stroke="#1a1a1a" stroke-width="0.8" transform="rotate(45 902.60 532.30)"/>
<rect x="837.30" y="561.10" width="8.20" height="3.80" rx="1.90" fill="#fff" stroke="#1a1a1a" stroke-width="0.8" transform="rotate(-55 841.40 563.00)"/>
<rect x="898.50" y="561.10" width="8.20" height="3.80" rx="1.90" fill="#fff" stroke="#1a1a1a" stroke-width="0.8" transform="rotate(-55 902.60 563.00)"/>
<rect x="837.30" y="585.30" width="8.20" height="3.80" rx="1.90" fill="#fff" stroke="#1a1a1a" stroke-width="0.8" transform="rotate(45 841.40 587.20)"/>
<rect x="898.50" y="585.30" width="8.20" height="3.80" rx="1.90" fill="#fff" stroke="#1a1a1a" stroke-width="0.8" transform="rotate(45 902.60 587.20)"/>
<rect x="837.30" y="615.60" width="8.20" height="3.80" rx="1.90" fill="#fff" stroke="#1a1a1a" stroke-width="0.8" transform="rotate(-55 841.40 617.50)"/>
<rect x="898.50" y="615.60" width="8.20" height="3.80" rx="1.90" fill="#fff" stroke="#1a1a1a" stroke-width="0.8" transform="rotate(-55 902.60 617.50)"/>
<rect x="837.30" y="640.30" width="8.20" height="3.80" rx="1.90" fill="#bbb" stroke="#1a1a1a" stroke-width="0.8" transform="rotate(45 841.40 642.20)"/>
<rect x="898.50" y="640.30" width="8.20" height="3.80" rx="1.90" fill="#fff" stroke="#1a1a1a" stroke-width="0.8" transform="rotate(45 902.60 642.20)"/>
<rect x="860.30" y="544.90" width="24.40" height="5.00" rx="2.50" fill="#fff" stroke="#1a1a1a" stroke-width="0.8"/>
<line x1="862.30" y1="547.40" x2="882.70" y2="547.40" stroke="#333" stroke-width="0.5"/>
<rect x="860.30" y="600.00" width="24.40" height="5.00" rx="2.50" fill="#fff" stroke="#1a1a1a" stroke-width="0.8"/>
<line x1="862.30" y1="602.50" x2="882.70" y2="602.50" stroke="#333" stroke-width="0.5"/>
<circle cx="1021.3" cy="520.0" r="3.7" fill="#fff" stroke="#222" stroke-width="0.8"/>
<line x1="1020.1" y1="520.5" x2="1022.5" y2="520.5" stroke-width="0.5" stroke="#222"/>
<line x1="1021.5" y1="518.8" x2="1021.5" y2="521.2" stroke-width="0.5" stroke="#222"/>
<circle cx="1021.3" cy="574.6" r="3.7" fill="#fff" stroke="#222" stroke-width="0.8"/>
<line x1="1020.1" y1="574.5" x2="1022.5" y2="574.5" stroke-width="0.5" stroke="#222"/>
<line x1="1021.5" y1="573.4" x2="1021.5" y2="575.8" stroke-width="0.5" stroke="#222"/>
<circle cx="1021.3" cy="629.7" r="3.7" fill="#fff" stroke="#222" stroke-width="0.8"/>
<line x1="1020.1" y1="629.5" x2="1022.5" y2="629.5" stroke-width="0.5" stroke="#222"/>
<line x1="1021.5" y1="628.5" x2="1021.5" y2="630.9" stroke-width="0.5" stroke="#222"/>
<circle cx="964.1" cy="547.5" r="3.7" fill="#fff" stroke="#222" stroke-width="0.8"/>
<line x1="962.9" y1="547.5" x2="965.3" y2="547.5" stroke-width="0.5" stroke="#222"/>
<line x1="964.5" y1="546.3" x2="964.5" y2="548.7" stroke-width="0.5" stroke="#222"/>
<circle cx="992.6" cy="547.5" r="3.7" fill="#fff" stroke="#222" stroke-width="0.8"/>
<line x1="991.4" y1="547.5" x2="993.8" y2="547.5" stroke-width="0.5" stroke="#222"/>
<line x1="992.5" y1="546.3" x2="992.5" y2="548.7" stroke-width="0.5" stroke="#222"/>
<circle cx="964.1" cy="602.3" r="3.7" fill="#fff" stroke="#222" stroke-width="0.8"/>
<line x1="962.9" y1="602.5" x2="965.3" y2="602.5" stroke-width="0.5" stroke="#222"/>
<line x1="964.5" y1="601.1" x2="964.5" y2="603.5" stroke-width="0.5" stroke="#222"/>
<circle cx="992.6" cy="602.3" r="3.7" fill="#fff" stroke="#222" stroke-width="0.8"/>
<line x1="991.4" y1="602.5" x2="993.8" y2="602.5" stroke-width="0.5" stroke="#222"/>
<line x1="992.5" y1="601.1" x2="992.5" y2="603.5" stroke-width="0.5" stroke="#222"/>
<circle cx="1021.3" cy="547.5" r="3.1" fill="#fff" stroke="#222" stroke-width="0.8"/>
<line x1="1020.1" y1="547.5" x2="1022.5" y2="547.5" stroke-width="0.5" stroke="#222"/>
<line x1="1021.5" y1="546.3" x2="1021.5" y2="548.7" stroke-width="0.5" stroke="#222"/>
<circle cx="1021.3" cy="602.3" r="3.1" fill="#fff" stroke="#222" stroke-width="0.8"/>
<line x1="1020.1" y1="602.5" x2="1022.5" y2="602.5" stroke-width="0.5" stroke="#222"/>
<line x1="1021.5" y1="601.1" x2="1021.5" y2="603.5" stroke-width="0.5" stroke="#222"/>
<path d="M1071.4 182.6 Q1076 182.8 1079 184.1 L1093.2 194.5 Q1095.4 196.5 1095.4 199.7 Q1095.4 202.5 1093.6 204 L1074.3 217.8 Q1072.4 219.5 1072.4 222.5 V230.1 Q1072.4 233.3 1074.3 234.9 L1093.6 249.1 Q1095.4 250.8 1095.4 253.9 Q1095.4 257 1093.6 258.7 L1074.3 272.9 Q1072.4 274.6 1072.4 277.7 V285.3 Q1072.4 288.4 1074.3 290 L1093.6 304.3 Q1095.4 306 1095.4 309 Q1095.4 312 1093.6 313.8 L1079 324.2 Q1076 325.5 1071.4 325.8" transform="translate(-348.4 320.6)" stroke="#222" stroke-width="1.4"/>
<line x1="733.9" y1="506.5" x2="736.9" y2="509.5" stroke-width="0.7" stroke="#555"/>
<line x1="733.9" y1="509.5" x2="736.9" y2="506.5" stroke-width="0.7" stroke="#555"/>
<line x1="733.9" y1="530.2" x2="736.9" y2="533.2" stroke-width="0.7" stroke="#555"/>
<line x1="733.9" y1="533.2" x2="736.9" y2="530.2" stroke-width="0.7" stroke="#555"/>
<line x1="733.9" y1="561.6" x2="736.9" y2="564.6" stroke-width="0.7" stroke="#555"/>
<line x1="733.9" y1="564.6" x2="736.9" y2="561.6" stroke-width="0.7" stroke="#555"/>
<line x1="733.9" y1="585.4" x2="736.9" y2="588.4" stroke-width="0.7" stroke="#555"/>
<line x1="733.9" y1="588.4" x2="736.9" y2="585.4" stroke-width="0.7" stroke="#555"/>
<line x1="733.9" y1="615.8" x2="736.9" y2="618.8" stroke-width="0.7" stroke="#555"/>
<line x1="733.9" y1="618.8" x2="736.9" y2="615.8" stroke-width="0.7" stroke="#555"/>
<line x1="733.9" y1="639.5" x2="736.9" y2="642.5" stroke-width="0.7" stroke="#555"/>
<line x1="733.9" y1="642.5" x2="736.9" y2="639.5" stroke-width="0.7" stroke="#555"/>
<line x1="720.5" y1="546.5" x2="727.5" y2="546.5" stroke-width="1.0" stroke="#222"/>
<line x1="720.5" y1="602.5" x2="727.5" y2="602.5" stroke-width="1.0" stroke="#222"/>
<line x1="777.4" y1="503.5" x2="817.3" y2="503.5" stroke-width="1.0"/>
<line x1="777.4" y1="646.5" x2="817.3" y2="646.5" stroke-width="1.0"/>
<line x1="783.5" y1="503.5" x2="783.5" y2="646.5" stroke-width="1.0" stroke="#1a1a1a"/>
<path d="M783.70 503.50 L785.15 507.50 L782.25 507.50 Z" fill="#1a1a1a" stroke="none"/>
<path d="M783.70 646.50 L782.25 642.50 L785.15 642.50 Z" fill="#1a1a1a" stroke="none"/>
<text x="780.0" y="577.2" font-size="7.41" text-anchor="middle" textLength="15.5" lengthAdjust="spacing" transform="rotate(-90 780.0 574.7) translate(780.0 0) scale(0.634 1) translate(-780.0 0)" fill="#1a1a1a" stroke="none" font-weight="bold">506</text>
<line x1="808.5" y1="503.5" x2="808.5" y2="646.5" stroke-width="1.0"/>
<path d="M808.30 503.50 L809.75 507.50 L806.85 507.50 Z" fill="#1a1a1a" stroke="none"/>
<path d="M808.30 547.30 L809.75 551.30 L806.85 551.30 Z" fill="#1a1a1a" stroke="none"/>
<path d="M808.30 547.30 L806.85 543.30 L809.75 543.30 Z" fill="#1a1a1a" stroke="none"/>
<path d="M808.30 602.40 L806.85 598.40 L809.75 598.40 Z" fill="#1a1a1a" stroke="none"/>
<path d="M808.30 602.40 L809.75 606.40 L806.85 606.40 Z" fill="#1a1a1a" stroke="none"/>
<path d="M808.30 646.50 L806.85 642.50 L809.75 642.50 Z" fill="#1a1a1a" stroke="none"/>
<line x1="805.9" y1="547.5" x2="857.4" y2="547.5" stroke-width="1.0"/>
<line x1="805.9" y1="602.5" x2="857.4" y2="602.5" stroke-width="1.0"/>
<text x="804.8" y="526.9" font-size="7.41" text-anchor="middle" textLength="15.5" lengthAdjust="spacing" transform="rotate(-90 804.8 524.4) translate(804.8 0) scale(0.634 1) translate(-804.8 0)" fill="#1a1a1a" stroke="none" font-weight="bold">156</text>
<text x="804.8" y="577.2" font-size="7.41" text-anchor="middle" textLength="15.5" lengthAdjust="spacing" transform="rotate(-90 804.8 574.7) translate(804.8 0) scale(0.634 1) translate(-804.8 0)" fill="#1a1a1a" stroke="none" font-weight="bold">194</text>
<text x="804.8" y="626.6" font-size="7.41" text-anchor="middle" textLength="15.5" lengthAdjust="spacing" transform="rotate(-90 804.8 624.1) translate(804.8 0) scale(0.634 1) translate(-804.8 0)" fill="#1a1a1a" stroke="none" font-weight="bold">156</text>
<line x1="820.5" y1="649.2" x2="820.5" y2="697.0" stroke-width="1.0"/>
<line x1="841.5" y1="645.0" x2="841.5" y2="697.0" stroke-width="1.0"/>
<line x1="902.5" y1="645.0" x2="902.5" y2="697.0" stroke-width="1.0"/>
<line x1="964.5" y1="606.0" x2="964.5" y2="697.0" stroke-width="1.0"/>
<line x1="992.5" y1="606.0" x2="992.5" y2="697.0" stroke-width="1.0"/>
<line x1="1021.5" y1="634.5" x2="1021.5" y2="697.0" stroke-width="1.0"/>
<line x1="820.1" y1="694.5" x2="1021.3" y2="694.5" stroke-width="1.0"/>
<path d="M820.10 694.50 L824.10 693.05 L824.10 695.95 Z" fill="#1a1a1a" stroke="none"/>
<path d="M841.50 694.50 L837.50 695.95 L837.50 693.05 Z" fill="#1a1a1a" stroke="none"/>
<path d="M841.50 694.50 L845.50 693.05 L845.50 695.95 Z" fill="#1a1a1a" stroke="none"/>
<path d="M902.40 694.50 L898.40 695.95 L898.40 693.05 Z" fill="#1a1a1a" stroke="none"/>
<path d="M902.40 694.50 L906.40 693.05 L906.40 695.95 Z" fill="#1a1a1a" stroke="none"/>
<path d="M964.10 694.50 L960.10 695.95 L960.10 693.05 Z" fill="#1a1a1a" stroke="none"/>
<path d="M964.10 694.50 L968.10 693.05 L968.10 695.95 Z" fill="#1a1a1a" stroke="none"/>
<path d="M992.60 694.50 L988.60 695.95 L988.60 693.05 Z" fill="#1a1a1a" stroke="none"/>
<path d="M992.60 694.50 L996.60 693.05 L996.60 695.95 Z" fill="#1a1a1a" stroke="none"/>
<path d="M1021.30 694.50 L1017.30 695.95 L1017.30 693.05 Z" fill="#1a1a1a" stroke="none"/>
<text x="831.0" y="692.4" font-size="7.41" text-anchor="middle" textLength="10.3" lengthAdjust="spacing" transform="translate(831.0 0) scale(0.602 1) translate(-831.0 0)" fill="#1a1a1a" stroke="none" font-weight="bold">15</text>
<text x="872.2" y="692.4" font-size="7.41" text-anchor="middle" textLength="15.5" lengthAdjust="spacing" transform="translate(872.2 0) scale(0.634 1) translate(-872.2 0)" fill="#1a1a1a" stroke="none" font-weight="bold">216</text>
<text x="933.4" y="692.4" font-size="7.41" text-anchor="middle" textLength="15.5" lengthAdjust="spacing" transform="translate(933.4 0) scale(0.634 1) translate(-933.4 0)" fill="#1a1a1a" stroke="none" font-weight="bold">216</text>
<text x="978.4" y="692.4" font-size="7.41" text-anchor="middle" textLength="15.5" lengthAdjust="spacing" transform="translate(978.4 0) scale(0.595 1) translate(-978.4 0)" fill="#1a1a1a" stroke="none" font-weight="bold">101</text>
<text x="1007.3" y="692.4" font-size="7.41" text-anchor="middle" textLength="15.5" lengthAdjust="spacing" transform="translate(1007.3 0) scale(0.621 1) translate(-1007.3 0)" fill="#1a1a1a" stroke="none" font-weight="bold">102</text>
<line x1="1065.5" y1="484.7" x2="1065.5" y2="665.8" stroke-width="1.0"/>
<line x1="1036.0" y1="503.5" x2="1067.3" y2="503.5" stroke-width="1.0"/>
<line x1="1027.2" y1="520.5" x2="1067.3" y2="520.5" stroke-width="1.0"/>
<line x1="1025.8" y1="574.5" x2="1067.3" y2="574.5" stroke-width="1.0"/>
<line x1="1025.8" y1="629.5" x2="1067.3" y2="629.5" stroke-width="1.0"/>
<line x1="1037.4" y1="646.5" x2="1067.3" y2="646.5" stroke-width="1.0"/>
<path d="M1065.40 503.30 L1063.95 499.30 L1066.85 499.30 Z" fill="#1a1a1a" stroke="none"/>
<path d="M1065.40 520.00 L1066.85 524.00 L1063.95 524.00 Z" fill="#1a1a1a" stroke="none"/>
<path d="M1065.40 520.00 L1063.95 516.00 L1066.85 516.00 Z" fill="#1a1a1a" stroke="none"/>
<path d="M1065.40 574.50 L1063.95 570.50 L1066.85 570.50 Z" fill="#1a1a1a" stroke="none"/>
<path d="M1065.40 574.50 L1066.85 578.50 L1063.95 578.50 Z" fill="#1a1a1a" stroke="none"/>
<path d="M1065.40 629.60 L1063.95 625.60 L1066.85 625.60 Z" fill="#1a1a1a" stroke="none"/>
<path d="M1065.40 629.60 L1066.85 633.60 L1063.95 633.60 Z" fill="#1a1a1a" stroke="none"/>
<path d="M1065.40 646.50 L1066.85 650.50 L1063.95 650.50 Z" fill="#1a1a1a" stroke="none"/>
<text x="1061.6" y="491.4" font-size="7.41" text-anchor="middle" textLength="10.3" lengthAdjust="spacing" transform="rotate(-90 1061.6 488.8) translate(1061.6 0) scale(0.631 1) translate(-1061.6 0)" fill="#1a1a1a" stroke="none" font-weight="bold">60</text>
<text x="1061.2" y="549.8" font-size="7.41" text-anchor="middle" textLength="15.5" lengthAdjust="spacing" transform="rotate(-90 1061.2 547.2) translate(1061.2 0) scale(0.621 1) translate(-1061.2 0)" fill="#1a1a1a" stroke="none" font-weight="bold">193</text>
<text x="1061.2" y="604.3" font-size="7.41" text-anchor="middle" textLength="15.5" lengthAdjust="spacing" transform="rotate(-90 1061.2 601.8) translate(1061.2 0) scale(0.621 1) translate(-1061.2 0)" fill="#1a1a1a" stroke="none" font-weight="bold">193</text>
<text x="1061.4" y="662.8" font-size="7.41" text-anchor="middle" textLength="10.3" lengthAdjust="spacing" transform="rotate(-90 1061.4 660.3) translate(1061.4 0) scale(0.631 1) translate(-1061.4 0)" fill="#1a1a1a" stroke="none" font-weight="bold">60</text>
<text x="800.0" y="476.7" font-size="6.98" textLength="70.0" lengthAdjust="spacing" transform="translate(800.0 0) scale(0.693 1) translate(-800.0 0)" fill="#1a1a1a" stroke="none" font-weight="bold">OPTIONAL 20x65</text>
<text x="800.0" y="484.7" font-size="6.98" textLength="73.2" lengthAdjust="spacing" transform="translate(800.0 0) scale(0.683 1) translate(-800.0 0)" fill="#1a1a1a" stroke="none" font-weight="bold">POST BOLT SLOT</text>
<path d="M851.7 474 H857.9 L871.0 544.6" stroke-width="0.7"/>
<path d="M871.00 544.60 L869.37 541.85 L871.53 541.45 Z" fill="#1a1a1a" stroke="none"/>
<text x="926.7" y="476.0" font-size="6.98" textLength="48.5" lengthAdjust="spacing" transform="translate(926.7 0) scale(0.654 1) translate(-926.7 0)" fill="#1a1a1a" stroke="none" font-weight="bold">24Ø HOLES</text>
<text x="926.7" y="483.8" font-size="6.98" textLength="47.5" lengthAdjust="spacing" transform="translate(926.7 0) scale(0.657 1) translate(-926.7 0)" fill="#1a1a1a" stroke="none" font-weight="bold">(7 PLACES)</text>
<line x1="959.3" y1="473.5" x2="966.9" y2="473.5" stroke-width="1.0"/>
<line x1="966.9" y1="473.6" x2="964.4" y2="543.5" stroke-width="0.7"/>
<path d="M964.40 543.50 L963.41 540.46 L965.61 540.54 Z" fill="#1a1a1a" stroke="none"/>
<line x1="966.9" y1="473.6" x2="991.4" y2="543.7" stroke-width="0.7"/>
<path d="M991.40 543.70 L989.37 541.23 L991.45 540.51 Z" fill="#1a1a1a" stroke="none"/>
<line x1="966.9" y1="473.6" x2="1018.4" y2="517.3" stroke-width="0.7"/>
<path d="M1018.40 517.30 L1015.40 516.20 L1016.82 514.52 Z" fill="#1a1a1a" stroke="none"/>
<line x1="966.9" y1="473.6" x2="1019.2" y2="571.6" stroke-width="0.7"/>
<path d="M1019.20 571.60 L1016.82 569.47 L1018.76 568.44 Z" fill="#1a1a1a" stroke="none"/>
<text x="1087.8" y="571.7" font-size="6.98" textLength="48.4" lengthAdjust="spacing" transform="translate(1087.8 0) scale(0.644 1) translate(-1087.8 0)" fill="#1a1a1a" stroke="none" font-weight="bold">20Ø HOLES</text>
<text x="1087.8" y="580.0" font-size="6.98" textLength="47.5" lengthAdjust="spacing" transform="translate(1087.8 0) scale(0.663 1) translate(-1087.8 0)" fill="#1a1a1a" stroke="none" font-weight="bold">(2 PLACES)</text>
<line x1="1086.4" y1="569.3" x2="1024.2" y2="548.2" stroke-width="0.7"/>
<path d="M1024.20 548.20 L1027.39 548.12 L1026.69 550.21 Z" fill="#1a1a1a" stroke="none"/>
<line x1="1086.4" y1="569.3" x2="1025.0" y2="574.8" stroke-width="0.7"/>
<path d="M1025.00 574.80 L1027.89 573.44 L1028.09 575.63 Z" fill="#1a1a1a" stroke="none"/>
<path d="M960.2 634.5 A57.5 57.5 0 0 1 945.5 679.3" stroke-width="0.8"/>
<path d="M960.20 634.50 L961.56 637.39 L959.37 637.58 Z" fill="#1a1a1a" stroke="none"/>
<path d="M945.80 679.00 L946.89 675.99 L948.57 677.41 Z" fill="#1a1a1a" stroke="none"/>
<line x1="902.4" y1="641.5" x2="946.2" y2="677.0" stroke-width="0.8"/>
<path d="M956.5 660.3 L972.3 677.9 H975" stroke-width="0.7"/>
<text x="976.0" y="676.6" font-size="6.98" textLength="38.4" lengthAdjust="spacing" transform="translate(976.0 0) scale(0.743 1) translate(-976.0 0)" fill="#1a1a1a" stroke="none" font-weight="bold">50° (TYP)</text>
<text x="978.7" y="684.9" font-size="6.98" textLength="31.8" lengthAdjust="spacing" transform="translate(978.7 0) scale(0.676 1) translate(-978.7 0)" fill="#1a1a1a" stroke="none" font-weight="bold">IN FLAT</text>
<text x="880.8" y="713.9" font-size="9.45" textLength="138.5" lengthAdjust="spacing" transform="translate(880.8 0) scale(0.667 1) translate(-880.8 0)" fill="#1a1a1a" stroke="#1a1a1a" stroke-width="0.26">TERMINAL CONNECTOR</text>
<line x1="880.3" y1="715.5" x2="974.1" y2="715.5" stroke-width="1.0" stroke="#444"/>
<text x="912.2" y="725.9" font-size="9.45" textLength="43.1" lengthAdjust="spacing" transform="translate(912.2 0) scale(0.677 1) translate(-912.2 0)" fill="#1a1a1a" stroke="#1a1a1a" stroke-width="0.26">RTE01b</text>
<line x1="911.9" y1="727.5" x2="941.8" y2="727.5" stroke-width="1.0" stroke="#444"/>
<text x="913.1" y="735.7" font-size="7.27" textLength="27.8" lengthAdjust="spacingAndGlyphs" fill="#1a1a1a" stroke="#1a1a1a" stroke-width="0.18" font-weight="bold">SCALE 1:5</text>
</g>
</svg>
</body></html>
